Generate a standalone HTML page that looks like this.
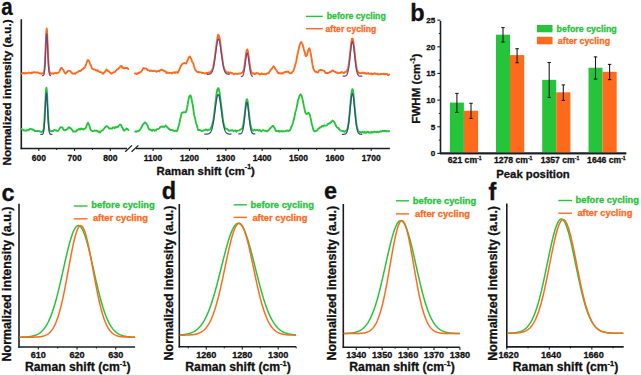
<!DOCTYPE html>
<html><head><meta charset="utf-8"><style>
html,body{margin:0;padding:0;background:#fff;width:641px;height:375px;overflow:hidden}
svg{display:block}
text{font-family:"Liberation Sans",sans-serif;font-weight:bold;stroke-width:0.3px;paint-order:fill}
</style></head><body>
<svg width="641" height="375" viewBox="0 0 641 375">
<rect width="641" height="375" fill="#fff"/>
<text transform="translate(1.3,14.7) scale(0.84,1)" font-size="24.5" fill="#111" stroke="#111">a</text>
<text transform="translate(11.0,165.6) rotate(-90)" font-size="11.75" fill="#111" stroke="#111">Normalized intensity (a.u.)</text>
<line x1="21.30" y1="19.20" x2="21.30" y2="149.20" stroke="#1a1e24" stroke-width="1.6"/>
<line x1="20.60" y1="148.50" x2="127.00" y2="148.50" stroke="#1a1e24" stroke-width="1.6"/>
<line x1="136.00" y1="148.50" x2="389.90" y2="148.50" stroke="#1a1e24" stroke-width="1.6"/>
<line x1="125.20" y1="151.80" x2="132.00" y2="145.40" stroke="#1a1e24" stroke-width="1.3"/>
<line x1="131.60" y1="151.80" x2="138.40" y2="145.40" stroke="#1a1e24" stroke-width="1.3"/>
<line x1="38.80" y1="148.50" x2="38.80" y2="151.10" stroke="#1a1e24" stroke-width="1.1"/>
<text x="38.80" y="160.70" font-size="8.5" fill="#111" stroke="#111" text-anchor="middle" >600</text>
<line x1="74.55" y1="148.50" x2="74.55" y2="151.10" stroke="#1a1e24" stroke-width="1.1"/>
<text x="74.55" y="160.70" font-size="8.5" fill="#111" stroke="#111" text-anchor="middle" >700</text>
<line x1="110.30" y1="148.50" x2="110.30" y2="151.10" stroke="#1a1e24" stroke-width="1.1"/>
<text x="110.30" y="160.70" font-size="8.5" fill="#111" stroke="#111" text-anchor="middle" >800</text>
<line x1="56.67" y1="148.50" x2="56.67" y2="150.00" stroke="#1a1e24" stroke-width="1.0"/>
<line x1="92.42" y1="148.50" x2="92.42" y2="150.00" stroke="#1a1e24" stroke-width="1.0"/>
<line x1="153.10" y1="148.50" x2="153.10" y2="151.10" stroke="#1a1e24" stroke-width="1.1"/>
<text x="153.10" y="160.70" font-size="8.5" fill="#111" stroke="#111" text-anchor="middle" >1100</text>
<line x1="189.45" y1="148.50" x2="189.45" y2="151.10" stroke="#1a1e24" stroke-width="1.1"/>
<text x="189.45" y="160.70" font-size="8.5" fill="#111" stroke="#111" text-anchor="middle" >1200</text>
<line x1="225.80" y1="148.50" x2="225.80" y2="151.10" stroke="#1a1e24" stroke-width="1.1"/>
<text x="225.80" y="160.70" font-size="8.5" fill="#111" stroke="#111" text-anchor="middle" >1300</text>
<line x1="262.15" y1="148.50" x2="262.15" y2="151.10" stroke="#1a1e24" stroke-width="1.1"/>
<text x="262.15" y="160.70" font-size="8.5" fill="#111" stroke="#111" text-anchor="middle" >1400</text>
<line x1="298.50" y1="148.50" x2="298.50" y2="151.10" stroke="#1a1e24" stroke-width="1.1"/>
<text x="298.50" y="160.70" font-size="8.5" fill="#111" stroke="#111" text-anchor="middle" >1500</text>
<line x1="334.85" y1="148.50" x2="334.85" y2="151.10" stroke="#1a1e24" stroke-width="1.1"/>
<text x="334.85" y="160.70" font-size="8.5" fill="#111" stroke="#111" text-anchor="middle" >1600</text>
<line x1="371.20" y1="148.50" x2="371.20" y2="151.10" stroke="#1a1e24" stroke-width="1.1"/>
<text x="371.20" y="160.70" font-size="8.5" fill="#111" stroke="#111" text-anchor="middle" >1700</text>
<line x1="171.28" y1="148.50" x2="171.28" y2="150.00" stroke="#1a1e24" stroke-width="1.0"/>
<line x1="207.62" y1="148.50" x2="207.62" y2="150.00" stroke="#1a1e24" stroke-width="1.0"/>
<line x1="243.97" y1="148.50" x2="243.97" y2="150.00" stroke="#1a1e24" stroke-width="1.0"/>
<line x1="280.32" y1="148.50" x2="280.32" y2="150.00" stroke="#1a1e24" stroke-width="1.0"/>
<line x1="316.67" y1="148.50" x2="316.67" y2="150.00" stroke="#1a1e24" stroke-width="1.0"/>
<line x1="353.02" y1="148.50" x2="353.02" y2="150.00" stroke="#1a1e24" stroke-width="1.0"/>
<text x="156.6" y="174.5" font-size="11.35" fill="#111" stroke="#111">Raman shift (cm<tspan font-size="6.9" dy="-5.2">-1</tspan><tspan dy="5.2">)</tspan></text>
<path d="M21.50,73.64 L21.90,73.58 L22.30,73.32 L22.70,73.08 L23.10,72.99 L23.50,73.01 L23.90,73.36 L24.30,73.57 L24.70,73.20 L25.10,73.05 L25.50,73.30 L25.90,73.38 L26.30,73.15 L26.70,72.97 L27.10,73.20 L27.50,73.27 L27.90,72.96 L28.30,72.75 L28.70,72.59 L29.10,72.50 L29.50,72.68 L29.90,72.91 L30.30,73.05 L30.70,73.28 L31.10,73.37 L31.50,72.87 L31.90,72.37 L32.30,72.57 L32.70,72.90 L33.10,72.69 L33.50,72.31 L33.90,72.21 L34.30,72.15 L34.70,72.31 L35.10,72.53 L35.50,72.34 L35.90,72.40 L36.30,72.57 L36.70,72.40 L37.10,72.43 L37.50,72.64 L37.90,72.59 L38.30,72.52 L38.70,73.00 L39.10,73.25 L39.50,73.06 L39.90,73.32 L40.30,73.41 L40.70,73.50 L41.10,73.97 L41.50,73.72 L41.90,73.18 L42.30,73.33 L42.70,73.51 L43.10,73.40 L43.50,73.12 L43.90,72.30 L44.30,70.51 L44.70,66.54 L45.10,59.50 L45.50,50.14 L45.90,40.03 L46.30,31.82 L46.70,28.51 L47.10,31.67 L47.50,40.10 L47.90,50.62 L48.30,59.72 L48.70,65.83 L49.10,69.82 L49.50,71.92 L49.90,72.45 L50.30,72.86 L50.70,73.45 L51.10,73.82 L51.50,73.72 L51.90,73.35 L52.30,73.22 L52.70,73.48 L53.10,73.70 L53.50,73.41 L53.90,73.24 L54.30,73.35 L54.70,73.26 L55.10,73.01 L55.50,72.86 L55.90,72.93 L56.30,73.13 L56.70,73.38 L57.10,73.30 L57.50,73.07 L57.90,72.95 L58.30,72.82 L58.70,72.56 L59.10,72.02 L59.50,71.15 L59.90,70.26 L60.30,69.50 L60.70,68.49 L61.10,67.84 L61.50,67.84 L61.90,67.93 L62.30,68.60 L62.70,69.35 L63.10,69.48 L63.50,70.02 L63.90,71.15 L64.30,72.06 L64.70,72.62 L65.10,73.16 L65.50,73.63 L65.90,73.43 L66.30,72.83 L66.70,72.48 L67.10,71.98 L67.50,71.36 L67.90,70.95 L68.30,70.72 L68.70,70.78 L69.10,70.85 L69.50,70.83 L69.90,71.03 L70.30,71.22 L70.70,71.36 L71.10,72.02 L71.50,72.66 L71.90,72.97 L72.30,73.36 L72.70,73.53 L73.10,73.64 L73.50,73.73 L73.90,73.81 L74.30,73.54 L74.70,73.26 L75.10,73.70 L75.50,73.77 L75.90,73.19 L76.30,72.76 L76.70,72.46 L77.10,72.34 L77.50,72.36 L77.90,72.05 L78.30,71.63 L78.70,71.30 L79.10,70.93 L79.50,70.90 L79.90,71.10 L80.30,71.00 L80.70,70.77 L81.10,70.34 L81.50,69.84 L81.90,69.56 L82.30,69.37 L82.70,69.16 L83.10,68.84 L83.50,68.33 L83.90,67.77 L84.30,67.73 L84.70,67.73 L85.10,66.73 L85.50,65.61 L85.90,65.06 L86.30,64.05 L86.70,62.50 L87.10,61.40 L87.50,60.50 L87.90,59.93 L88.30,60.16 L88.70,60.57 L89.10,61.08 L89.50,62.04 L89.90,63.30 L90.30,64.44 L90.70,65.37 L91.10,66.00 L91.50,67.01 L91.90,68.24 L92.30,68.81 L92.70,69.06 L93.10,69.21 L93.50,69.20 L93.90,69.40 L94.30,69.67 L94.70,69.68 L95.10,69.70 L95.50,70.02 L95.90,70.40 L96.30,70.50 L96.70,70.37 L97.10,70.11 L97.50,70.24 L97.90,70.95 L98.30,71.30 L98.70,71.27 L99.10,71.51 L99.50,71.85 L99.90,72.08 L100.30,72.09 L100.70,72.18 L101.10,72.35 L101.50,72.35 L101.90,72.69 L102.30,73.11 L102.70,73.46 L103.10,73.85 L103.50,73.59 L103.90,72.75 L104.30,72.33 L104.70,72.20 L105.10,71.56 L105.50,71.07 L105.90,70.57 L106.30,69.62 L106.70,69.45 L107.10,70.13 L107.50,70.60 L107.90,70.84 L108.30,71.13 L108.70,71.25 L109.10,71.55 L109.50,72.14 L109.90,72.38 L110.30,72.70 L110.70,73.36 L111.10,73.69 L111.50,73.56 L111.90,73.21 L112.30,72.92 L112.70,72.69 L113.10,72.58 L113.50,72.48 L113.90,72.21 L114.30,72.07 L114.70,72.12 L115.10,71.78 L115.50,71.06 L115.90,70.78 L116.30,70.55 L116.70,69.92 L117.10,69.31 L117.50,69.16 L117.90,69.11 L118.30,68.68 L118.70,68.17 L119.10,67.94 L119.50,67.82 L119.90,67.14 L120.30,66.41 L120.70,66.25 L121.10,65.93 L121.50,65.88 L121.90,66.88 L122.30,67.81 L122.70,67.78 L123.10,67.51 L123.50,67.85 L123.90,68.40 L124.30,68.39 L124.70,68.13 L125.10,68.00 L125.50,68.01 L125.90,68.12 L126.30,68.10 L126.70,67.87 L127.10,67.85 L127.50,68.18 L127.90,68.60 L128.30,69.12" fill="none" stroke="#ff6a1c" stroke-width="1.85" stroke-linejoin="round" stroke-linecap="round" />
<path d="M134.80,73.33 L135.20,73.48 L135.60,73.47 L136.00,73.51 L136.40,74.09 L136.80,74.11 L137.20,73.65 L137.60,73.60 L138.00,73.16 L138.40,72.59 L138.80,72.82 L139.20,73.04 L139.60,72.77 L140.00,72.38 L140.40,72.12 L140.80,72.00 L141.20,71.75 L141.60,71.08 L142.00,70.48 L142.40,69.98 L142.80,69.10 L143.20,68.18 L143.60,67.90 L144.00,68.30 L144.40,68.51 L144.80,68.42 L145.20,68.40 L145.60,68.42 L146.00,68.55 L146.40,68.72 L146.80,69.01 L147.20,69.59 L147.60,70.20 L148.00,70.33 L148.40,70.19 L148.80,70.13 L149.20,70.47 L149.60,70.99 L150.00,71.01 L150.40,70.74 L150.80,70.53 L151.20,70.46 L151.60,70.83 L152.00,71.11 L152.40,70.97 L152.80,70.89 L153.20,71.00 L153.60,70.90 L154.00,70.70 L154.40,70.79 L154.80,71.07 L155.20,71.26 L155.60,71.25 L156.00,71.54 L156.40,71.75 L156.80,71.34 L157.20,71.12 L157.60,71.25 L158.00,71.10 L158.40,70.91 L158.80,71.26 L159.20,71.43 L159.60,70.87 L160.00,70.29 L160.40,70.10 L160.80,69.99 L161.20,69.62 L161.60,69.66 L162.00,69.94 L162.40,69.89 L162.80,70.19 L163.20,70.50 L163.60,70.44 L164.00,70.82 L164.40,71.28 L164.80,71.19 L165.20,71.07 L165.60,71.38 L166.00,72.21 L166.40,73.03 L166.80,73.06 L167.20,72.62 L167.60,72.47 L168.00,72.68 L168.40,72.88 L168.80,72.91 L169.20,72.97 L169.60,72.97 L170.00,72.85 L170.40,72.88 L170.80,72.94 L171.20,72.97 L171.60,73.28 L172.00,73.57 L172.40,73.33 L172.80,72.76 L173.20,72.50 L173.60,72.50 L174.00,72.19 L174.40,72.30 L174.80,72.93 L175.20,73.02 L175.60,72.49 L176.00,72.05 L176.40,72.07 L176.80,72.26 L177.20,72.69 L177.60,72.93 L178.00,72.32 L178.40,71.37 L178.80,70.69 L179.20,70.14 L179.60,69.20 L180.00,68.07 L180.40,67.07 L180.80,66.19 L181.20,65.69 L181.60,65.18 L182.00,64.35 L182.40,63.68 L182.80,63.56 L183.20,63.48 L183.60,63.33 L184.00,63.17 L184.40,62.90 L184.80,63.03 L185.20,63.49 L185.60,63.59 L186.00,63.65 L186.40,63.20 L186.80,61.95 L187.20,60.98 L187.60,60.29 L188.00,59.24 L188.40,58.22 L188.80,57.58 L189.20,56.90 L189.60,56.40 L190.00,56.78 L190.40,57.71 L190.80,58.18 L191.20,58.71 L191.60,60.05 L192.00,61.32 L192.40,62.13 L192.80,62.69 L193.20,63.23 L193.60,64.53 L194.00,66.24 L194.40,67.51 L194.80,68.58 L195.20,69.49 L195.60,70.13 L196.00,70.62 L196.40,71.26 L196.80,71.71 L197.20,71.78 L197.60,72.17 L198.00,72.23 L198.40,71.93 L198.80,72.00 L199.20,72.23 L199.60,72.37 L200.00,72.33 L200.40,72.34 L200.80,72.43 L201.20,72.35 L201.60,72.44 L202.00,72.95 L202.40,73.11 L202.80,72.85 L203.20,72.91 L203.60,72.94 L204.00,73.04 L204.40,73.33 L204.80,73.48 L205.20,73.51 L205.60,73.29 L206.00,73.16 L206.40,73.01 L206.80,72.90 L207.20,73.02 L207.60,73.02 L208.00,72.96 L208.40,72.66 L208.80,72.33 L209.20,72.39 L209.60,72.59 L210.00,72.48 L210.40,72.06 L210.80,71.59 L211.20,71.24 L211.60,70.96 L212.00,70.08 L212.40,69.03 L212.80,68.45 L213.20,67.23 L213.60,64.97 L214.00,62.65 L214.40,60.27 L214.80,57.59 L215.20,54.69 L215.60,51.29 L216.00,47.97 L216.40,44.88 L216.80,41.81 L217.20,39.13 L217.60,36.80 L218.00,35.07 L218.40,34.77 L218.80,35.61 L219.20,36.61 L219.60,38.18 L220.00,40.60 L220.40,43.46 L220.80,46.91 L221.20,50.35 L221.60,53.08 L222.00,55.83 L222.40,58.85 L222.80,61.79 L223.20,64.64 L223.60,66.66 L224.00,67.72 L224.40,68.77 L224.80,70.23 L225.20,71.02 L225.60,71.12 L226.00,71.64 L226.40,72.24 L226.80,72.50 L227.20,72.46 L227.60,72.31 L228.00,72.22 L228.40,72.57 L228.80,73.25 L229.20,73.29 L229.60,72.86 L230.00,72.47 L230.40,72.40 L230.80,72.78 L231.20,73.16 L231.60,73.26 L232.00,73.19 L232.40,73.13 L232.80,73.36 L233.20,73.78 L233.60,74.30 L234.00,74.43 L234.40,73.94 L234.80,73.64 L235.20,73.72 L235.60,73.69 L236.00,73.69 L236.40,73.74 L236.80,73.79 L237.20,73.99 L237.60,74.05 L238.00,73.96 L238.40,73.78 L238.80,73.50 L239.20,73.41 L239.60,73.49 L240.00,73.56 L240.40,73.64 L240.80,73.43 L241.20,73.13 L241.60,73.01 L242.00,72.72 L242.40,72.43 L242.80,71.85 L243.20,70.89 L243.60,70.04 L244.00,68.63 L244.40,66.32 L244.80,63.53 L245.20,60.37 L245.60,57.11 L246.00,54.16 L246.40,51.76 L246.80,50.06 L247.20,49.41 L247.60,50.20 L248.00,51.99 L248.40,54.36 L248.80,57.40 L249.20,60.52 L249.60,63.40 L250.00,66.33 L250.40,68.77 L250.80,70.44 L251.20,71.54 L251.60,72.14 L252.00,72.76 L252.40,73.35 L252.80,73.57 L253.20,73.35 L253.60,73.19 L254.00,73.64 L254.40,74.10 L254.80,74.06 L255.20,73.60 L255.60,73.36 L256.00,73.67 L256.40,73.41 L256.80,73.02 L257.20,73.26 L257.60,73.19 L258.00,73.10 L258.40,73.60 L258.80,74.01 L259.20,73.93 L259.60,74.10 L260.00,74.59 L260.40,74.54 L260.80,74.05 L261.20,73.66 L261.60,73.45 L262.00,73.64 L262.40,74.03 L262.80,74.15 L263.20,74.20 L263.60,74.17 L264.00,73.91 L264.40,73.98 L264.80,74.27 L265.20,74.41 L265.60,74.40 L266.00,74.14 L266.40,73.89 L266.80,73.71 L267.20,73.25 L267.60,73.10 L268.00,73.43 L268.40,73.43 L268.80,72.85 L269.20,72.10 L269.60,71.64 L270.00,71.14 L270.40,70.22 L270.80,69.41 L271.20,69.27 L271.60,69.17 L272.00,68.47 L272.40,67.69 L272.80,67.38 L273.20,66.87 L273.60,66.17 L274.00,66.47 L274.40,67.22 L274.80,67.87 L275.20,68.64 L275.60,69.17 L276.00,69.60 L276.40,70.31 L276.80,71.00 L277.20,71.45 L277.60,72.10 L278.00,72.99 L278.40,73.34 L278.80,73.02 L279.20,72.89 L279.60,73.22 L280.00,73.46 L280.40,73.51 L280.80,73.46 L281.20,73.15 L281.60,73.06 L282.00,73.32 L282.40,73.63 L282.80,73.45 L283.20,72.75 L283.60,72.56 L284.00,72.64 L284.40,72.18 L284.80,71.91 L285.20,72.18 L285.60,72.17 L286.00,71.79 L286.40,71.62 L286.80,71.68 L287.20,71.77 L287.60,71.83 L288.00,71.68 L288.40,71.82 L288.80,72.28 L289.20,72.65 L289.60,73.11 L290.00,73.24 L290.40,73.14 L290.80,73.23 L291.20,73.34 L291.60,73.13 L292.00,72.40 L292.40,71.80 L292.80,71.64 L293.20,71.25 L293.60,70.18 L294.00,68.77 L294.40,67.81 L294.80,66.88 L295.20,65.24 L295.60,63.51 L296.00,62.15 L296.40,60.48 L296.80,58.19 L297.20,55.85 L297.60,54.05 L298.00,52.41 L298.40,50.39 L298.80,48.51 L299.20,47.01 L299.60,45.52 L300.00,44.18 L300.40,43.16 L300.80,42.40 L301.20,42.06 L301.60,42.44 L302.00,43.33 L302.40,44.11 L302.80,45.01 L303.20,46.48 L303.60,48.30 L304.00,49.94 L304.40,51.15 L304.80,52.58 L305.20,54.48 L305.60,56.01 L306.00,56.23 L306.40,55.70 L306.80,55.32 L307.20,54.39 L307.60,52.52 L308.00,50.86 L308.40,49.79 L308.80,48.81 L309.20,48.17 L309.60,48.49 L310.00,50.02 L310.40,51.90 L310.80,53.89 L311.20,56.06 L311.60,58.49 L312.00,61.45 L312.40,64.13 L312.80,66.33 L313.20,68.04 L313.60,68.92 L314.00,69.71 L314.40,70.71 L314.80,71.31 L315.20,71.63 L315.60,71.90 L316.00,71.79 L316.40,71.78 L316.80,72.27 L317.20,72.48 L317.60,72.52 L318.00,72.40 L318.40,71.51 L318.80,70.63 L319.20,70.35 L319.60,70.26 L320.00,70.30 L320.40,70.10 L320.80,69.80 L321.20,69.83 L321.60,69.87 L322.00,70.11 L322.40,70.31 L322.80,70.38 L323.20,70.54 L323.60,70.65 L324.00,70.65 L324.40,70.82 L324.80,71.65 L325.20,72.66 L325.60,73.12 L326.00,73.10 L326.40,72.86 L326.80,72.86 L327.20,73.18 L327.60,73.14 L328.00,72.93 L328.40,72.88 L328.80,72.75 L329.20,72.51 L329.60,72.15 L330.00,71.74 L330.40,71.86 L330.80,72.07 L331.20,71.48 L331.60,70.97 L332.00,70.99 L332.40,70.76 L332.80,70.36 L333.20,70.56 L333.60,71.04 L334.00,71.19 L334.40,71.51 L334.80,71.85 L335.20,71.84 L335.60,71.96 L336.00,72.45 L336.40,72.69 L336.80,72.40 L337.20,72.43 L337.60,72.85 L338.00,73.19 L338.40,73.44 L338.80,73.23 L339.20,72.83 L339.60,72.90 L340.00,72.87 L340.40,72.77 L340.80,72.82 L341.20,72.41 L341.60,72.10 L342.00,72.23 L342.40,72.25 L342.80,72.45 L343.20,72.82 L343.60,73.09 L344.00,73.16 L344.40,72.62 L344.80,72.07 L345.20,71.99 L345.60,71.89 L346.00,71.80 L346.40,71.73 L346.80,70.97 L347.20,70.07 L347.60,69.44 L348.00,68.19 L348.40,66.24 L348.80,63.89 L349.20,61.00 L349.60,57.72 L350.00,54.20 L350.40,50.36 L350.80,46.60 L351.20,43.12 L351.60,40.25 L352.00,38.71 L352.40,38.39 L352.80,38.88 L353.20,40.59 L353.60,43.57 L354.00,46.65 L354.40,49.70 L354.80,53.39 L355.20,57.45 L355.60,61.00 L356.00,63.92 L356.40,66.42 L356.80,68.45 L357.20,70.00 L357.60,71.00 L358.00,71.93 L358.40,73.06 L358.80,73.49 L359.20,73.02 L359.60,72.77 L360.00,73.05 L360.40,73.23 L360.80,73.05 L361.20,73.05 L361.60,73.15 L362.00,72.96 L362.40,72.92 L362.80,72.84 L363.20,72.55 L363.60,72.66 L364.00,73.12 L364.40,73.38 L364.80,73.15 L365.20,72.86 L365.60,73.18 L366.00,73.69 L366.40,73.71 L366.80,73.40 L367.20,73.31 L367.60,73.46 L368.00,73.27 L368.40,73.00 L368.80,73.34 L369.20,73.85 L369.60,73.97 L370.00,73.84 L370.40,73.73 L370.80,73.69 L371.20,73.54 L371.60,73.82 L372.00,74.39 L372.40,74.12 L372.80,73.60 L373.20,73.61 L373.60,73.92 L374.00,73.99 L374.40,73.49 L374.80,73.13 L375.20,73.41 L375.60,73.72 L376.00,73.96 L376.40,74.19 L376.80,74.16 L377.20,73.91 L377.60,73.74 L378.00,74.20 L378.40,74.64 L378.80,74.39 L379.20,74.07 L379.60,74.21 L380.00,74.28 L380.40,73.89 L380.80,73.83 L381.20,74.16 L381.60,74.17 L382.00,74.00 L382.40,73.98 L382.80,73.99 L383.20,74.00 L383.60,73.87 L384.00,73.73 L384.40,74.04 L384.80,74.20 L385.20,73.93 L385.60,74.02 L386.00,74.15 L386.40,73.99 L386.80,73.94 L387.20,74.09 L387.60,74.70 L388.00,75.31 L388.40,75.10 L388.80,74.60 L389.20,74.47" fill="none" stroke="#ff6a1c" stroke-width="1.85" stroke-linejoin="round" stroke-linecap="round" />
<path d="M21.60,128.85 L22.00,129.36 L22.40,129.63 L22.80,129.61 L23.20,129.94 L23.60,130.35 L24.00,130.58 L24.40,130.46 L24.80,130.30 L25.20,130.58 L25.60,130.80 L26.00,130.77 L26.40,130.67 L26.80,130.19 L27.20,129.90 L27.60,130.30 L28.00,130.37 L28.40,129.95 L28.80,129.74 L29.20,129.58 L29.60,129.09 L30.00,128.76 L30.40,129.01 L30.80,129.14 L31.20,129.04 L31.60,129.26 L32.00,129.19 L32.40,129.31 L32.80,129.90 L33.20,129.88 L33.60,129.70 L34.00,130.17 L34.40,130.88 L34.80,131.07 L35.20,130.92 L35.60,131.08 L36.00,131.16 L36.40,131.02 L36.80,131.09 L37.20,131.09 L37.60,130.94 L38.00,130.99 L38.40,131.17 L38.80,131.18 L39.20,131.05 L39.60,131.24 L40.00,131.58 L40.40,131.65 L40.80,131.77 L41.20,131.88 L41.60,131.99 L42.00,131.92 L42.40,131.42 L42.80,130.98 L43.20,130.44 L43.60,129.25 L44.00,125.95 L44.40,120.06 L44.80,112.94 L45.20,104.96 L45.60,96.68 L46.00,90.19 L46.40,87.67 L46.80,90.12 L47.20,96.54 L47.60,105.07 L48.00,113.43 L48.40,120.20 L48.80,125.34 L49.20,128.62 L49.60,130.42 L50.00,131.05 L50.40,131.20 L50.80,131.40 L51.20,131.26 L51.60,131.00 L52.00,131.04 L52.40,131.31 L52.80,131.41 L53.20,131.03 L53.60,130.51 L54.00,130.20 L54.40,129.94 L54.80,129.91 L55.20,130.28 L55.60,130.50 L56.00,130.42 L56.40,130.48 L56.80,130.75 L57.20,130.83 L57.60,130.91 L58.00,130.96 L58.40,130.57 L58.80,129.87 L59.20,129.13 L59.60,128.57 L60.00,127.95 L60.40,127.47 L60.80,127.37 L61.20,127.23 L61.60,127.36 L62.00,127.44 L62.40,127.46 L62.80,128.08 L63.20,128.99 L63.60,129.67 L64.00,130.14 L64.40,130.23 L64.80,130.13 L65.20,130.03 L65.60,129.90 L66.00,129.96 L66.40,129.73 L66.80,129.32 L67.20,129.18 L67.60,128.80 L68.00,128.03 L68.40,127.51 L68.80,127.29 L69.20,127.11 L69.60,127.57 L70.00,128.13 L70.40,128.19 L70.80,128.32 L71.20,128.61 L71.60,129.14 L72.00,129.69 L72.40,130.23 L72.80,131.03 L73.20,131.61 L73.60,131.64 L74.00,131.45 L74.40,131.43 L74.80,131.56 L75.20,131.59 L75.60,131.50 L76.00,131.45 L76.40,131.08 L76.80,130.28 L77.20,130.12 L77.60,130.23 L78.00,129.73 L78.40,129.26 L78.80,128.96 L79.20,128.75 L79.60,129.18 L80.00,129.77 L80.40,129.40 L80.80,128.64 L81.20,128.49 L81.60,128.88 L82.00,129.12 L82.40,128.88 L82.80,128.93 L83.20,129.43 L83.60,129.52 L84.00,129.11 L84.40,128.71 L84.80,128.62 L85.20,128.56 L85.60,128.10 L86.00,127.40 L86.40,126.18 L86.80,125.05 L87.20,124.27 L87.60,123.22 L88.00,122.74 L88.40,123.54 L88.80,124.56 L89.20,125.25 L89.60,126.40 L90.00,127.76 L90.40,129.14 L90.80,130.26 L91.20,130.43 L91.60,130.53 L92.00,130.93 L92.40,131.09 L92.80,131.18 L93.20,131.15 L93.60,131.17 L94.00,130.98 L94.40,130.51 L94.80,130.50 L95.20,130.68 L95.60,130.79 L96.00,130.76 L96.40,130.49 L96.80,130.66 L97.20,131.13 L97.60,131.20 L98.00,131.38 L98.40,132.17 L98.80,132.22 L99.20,131.54 L99.60,131.83 L100.00,132.40 L100.40,132.06 L100.80,131.47 L101.20,131.06 L101.60,130.75 L102.00,130.53 L102.40,130.41 L102.80,130.31 L103.20,129.90 L103.60,129.30 L104.00,128.74 L104.40,128.22 L104.80,127.57 L105.20,127.17 L105.60,126.94 L106.00,126.53 L106.40,126.25 L106.80,126.23 L107.20,126.31 L107.60,126.53 L108.00,127.01 L108.40,127.47 L108.80,127.89 L109.20,128.52 L109.60,128.69 L110.00,128.51 L110.40,128.47 L110.80,128.54 L111.20,128.57 L111.60,128.63 L112.00,128.67 L112.40,128.09 L112.80,127.51 L113.20,127.43 L113.60,127.44 L114.00,127.82 L114.40,128.21 L114.80,127.83 L115.20,127.14 L115.60,127.18 L116.00,127.54 L116.40,127.22 L116.80,126.86 L117.20,127.08 L117.60,127.25 L118.00,126.76 L118.40,126.08 L118.80,125.78 L119.20,125.50 L119.60,124.95 L120.00,124.68 L120.40,124.74 L120.80,124.89 L121.20,125.42 L121.60,126.49 L122.00,127.42 L122.40,127.76 L122.80,128.34 L123.20,129.29 L123.60,130.21 L124.00,130.76 L124.40,130.66 L124.80,130.23 L125.20,129.74 L125.60,129.53 L126.00,129.43 L126.40,128.92 L126.80,128.48 L127.20,128.66 L127.60,129.20 L128.00,129.68 L128.40,130.11" fill="none" stroke="#25c43a" stroke-width="1.85" stroke-linejoin="round" stroke-linecap="round" />
<path d="M135.20,131.68 L135.60,131.29 L136.00,131.59 L136.40,131.84 L136.80,131.32 L137.20,131.24 L137.60,131.41 L138.00,131.09 L138.40,130.80 L138.80,130.75 L139.20,130.65 L139.60,130.16 L140.00,129.51 L140.40,129.09 L140.80,128.48 L141.20,127.78 L141.60,127.23 L142.00,126.59 L142.40,125.64 L142.80,124.65 L143.20,124.13 L143.60,123.75 L144.00,123.33 L144.40,122.89 L144.80,122.43 L145.20,122.52 L145.60,122.85 L146.00,123.11 L146.40,123.78 L146.80,124.55 L147.20,125.09 L147.60,125.65 L148.00,126.61 L148.40,127.83 L148.80,128.87 L149.20,129.42 L149.60,129.52 L150.00,129.46 L150.40,129.59 L150.80,129.89 L151.20,130.13 L151.60,130.55 L152.00,130.85 L152.40,130.41 L152.80,129.93 L153.20,129.88 L153.60,129.88 L154.00,130.24 L154.40,130.82 L154.80,130.58 L155.20,130.14 L155.60,130.43 L156.00,130.47 L156.40,129.82 L156.80,129.29 L157.20,129.13 L157.60,129.09 L158.00,129.04 L158.40,128.93 L158.80,128.70 L159.20,128.44 L159.60,128.12 L160.00,127.41 L160.40,126.71 L160.80,126.70 L161.20,126.82 L161.60,126.79 L162.00,126.81 L162.40,126.49 L162.80,126.42 L163.20,126.83 L163.60,126.83 L164.00,126.66 L164.40,126.77 L164.80,126.78 L165.20,126.21 L165.60,125.58 L166.00,125.80 L166.40,126.22 L166.80,126.53 L167.20,127.25 L167.60,127.82 L168.00,127.81 L168.40,128.24 L168.80,129.08 L169.20,129.11 L169.60,129.08 L170.00,129.68 L170.40,129.97 L170.80,129.99 L171.20,130.14 L171.60,130.00 L172.00,129.92 L172.40,130.30 L172.80,130.47 L173.20,130.35 L173.60,130.41 L174.00,130.87 L174.40,131.16 L174.80,130.91 L175.20,130.83 L175.60,130.73 L176.00,130.64 L176.40,130.90 L176.80,131.12 L177.20,130.85 L177.60,129.79 L178.00,128.28 L178.40,126.88 L178.80,125.52 L179.20,123.97 L179.60,122.18 L180.00,120.23 L180.40,118.54 L180.80,116.95 L181.20,115.03 L181.60,113.39 L182.00,112.57 L182.40,112.56 L182.80,112.65 L183.20,112.35 L183.60,112.22 L184.00,112.29 L184.40,112.30 L184.80,112.20 L185.20,112.27 L185.60,112.32 L186.00,111.85 L186.40,110.67 L186.80,108.93 L187.20,107.23 L187.60,105.12 L188.00,102.47 L188.40,100.22 L188.80,98.36 L189.20,96.96 L189.60,96.01 L190.00,95.43 L190.40,95.37 L190.80,95.98 L191.20,97.45 L191.60,99.25 L192.00,101.35 L192.40,103.32 L192.80,105.22 L193.20,108.00 L193.60,111.21 L194.00,113.93 L194.40,115.94 L194.80,117.41 L195.20,118.91 L195.60,121.11 L196.00,122.98 L196.40,124.11 L196.80,125.12 L197.20,126.41 L197.60,128.30 L198.00,129.75 L198.40,130.07 L198.80,130.10 L199.20,130.00 L199.60,130.00 L200.00,130.27 L200.40,130.19 L200.80,130.33 L201.20,130.81 L201.60,131.08 L202.00,131.11 L202.40,130.93 L202.80,130.56 L203.20,130.44 L203.60,130.60 L204.00,130.43 L204.40,130.08 L204.80,130.02 L205.20,129.94 L205.60,129.63 L206.00,129.43 L206.40,129.56 L206.80,129.96 L207.20,130.42 L207.60,130.35 L208.00,129.68 L208.40,129.59 L208.80,129.91 L209.20,129.68 L209.60,129.60 L210.00,129.61 L210.40,128.86 L210.80,127.84 L211.20,127.25 L211.60,126.81 L212.00,125.68 L212.40,123.85 L212.80,122.20 L213.20,120.60 L213.60,118.22 L214.00,115.29 L214.40,112.38 L214.80,108.89 L215.20,104.97 L215.60,101.65 L216.00,98.52 L216.40,94.99 L216.80,91.95 L217.20,90.19 L217.60,89.31 L218.00,88.38 L218.40,88.12 L218.80,89.20 L219.20,90.66 L219.60,92.95 L220.00,96.03 L220.40,99.03 L220.80,101.99 L221.20,105.26 L221.60,108.87 L222.00,111.83 L222.40,114.97 L222.80,118.69 L223.20,121.43 L223.60,123.16 L224.00,124.63 L224.40,126.34 L224.80,127.82 L225.20,128.49 L225.60,128.56 L226.00,128.66 L226.40,128.86 L226.80,128.78 L227.20,129.07 L227.60,129.61 L228.00,129.76 L228.40,129.90 L228.80,130.36 L229.20,130.87 L229.60,130.83 L230.00,130.59 L230.40,130.53 L230.80,130.28 L231.20,130.36 L231.60,130.54 L232.00,130.32 L232.40,130.21 L232.80,130.32 L233.20,130.84 L233.60,131.18 L234.00,130.91 L234.40,130.72 L234.80,130.53 L235.20,130.28 L235.60,130.57 L236.00,131.38 L236.40,131.69 L236.80,131.07 L237.20,130.60 L237.60,130.60 L238.00,130.59 L238.40,130.60 L238.80,130.53 L239.20,130.42 L239.60,130.26 L240.00,129.92 L240.40,129.53 L240.80,129.25 L241.20,129.10 L241.60,128.90 L242.00,128.52 L242.40,127.86 L242.80,126.95 L243.20,125.31 L243.60,122.73 L244.00,119.82 L244.40,116.74 L244.80,113.55 L245.20,110.00 L245.60,105.99 L246.00,102.63 L246.40,100.33 L246.80,99.18 L247.20,99.66 L247.60,100.86 L248.00,103.49 L248.40,108.07 L248.80,112.08 L249.20,115.29 L249.60,118.83 L250.00,122.05 L250.40,124.38 L250.80,126.02 L251.20,127.57 L251.60,128.91 L252.00,129.74 L252.40,130.20 L252.80,130.56 L253.20,130.73 L253.60,130.40 L254.00,129.98 L254.40,129.62 L254.80,129.87 L255.20,130.36 L255.60,130.30 L256.00,130.31 L256.40,130.21 L256.80,129.96 L257.20,129.99 L257.60,130.04 L258.00,130.20 L258.40,130.53 L258.80,130.50 L259.20,130.11 L259.60,130.02 L260.00,130.27 L260.40,130.52 L260.80,131.03 L261.20,131.42 L261.60,131.07 L262.00,130.61 L262.40,130.40 L262.80,130.23 L263.20,130.16 L263.60,130.26 L264.00,130.45 L264.40,130.73 L264.80,130.92 L265.20,130.82 L265.60,130.60 L266.00,130.76 L266.40,131.25 L266.80,131.46 L267.20,131.37 L267.60,131.14 L268.00,130.65 L268.40,130.05 L268.80,129.95 L269.20,129.66 L269.60,128.75 L270.00,128.50 L270.40,128.37 L270.80,127.74 L271.20,127.38 L271.60,127.00 L272.00,126.45 L272.40,126.15 L272.80,125.92 L273.20,125.93 L273.60,126.39 L274.00,127.09 L274.40,127.91 L274.80,128.45 L275.20,129.14 L275.60,130.35 L276.00,131.07 L276.40,131.06 L276.80,130.89 L277.20,130.94 L277.60,131.17 L278.00,130.95 L278.40,130.71 L278.80,131.43 L279.20,131.74 L279.60,131.12 L280.00,131.18 L280.40,131.36 L280.80,131.36 L281.20,131.36 L281.60,131.05 L282.00,131.26 L282.40,131.59 L282.80,131.28 L283.20,131.07 L283.60,131.11 L284.00,131.31 L284.40,131.44 L284.80,131.28 L285.20,131.12 L285.60,131.03 L286.00,131.15 L286.40,130.82 L286.80,130.35 L287.20,130.55 L287.60,130.67 L288.00,130.93 L288.40,131.16 L288.80,130.65 L289.20,130.48 L289.60,130.63 L290.00,130.24 L290.40,129.57 L290.80,128.40 L291.20,127.06 L291.60,126.28 L292.00,125.66 L292.40,124.54 L292.80,123.17 L293.20,121.76 L293.60,120.16 L294.00,118.71 L294.40,117.33 L294.80,115.18 L295.20,112.89 L295.60,111.38 L296.00,110.23 L296.40,108.69 L296.80,106.68 L297.20,104.73 L297.60,102.79 L298.00,100.67 L298.40,99.12 L298.80,98.01 L299.20,96.67 L299.60,95.70 L300.00,95.12 L300.40,94.48 L300.80,94.42 L301.20,95.16 L301.60,95.84 L302.00,96.87 L302.40,98.69 L302.80,100.52 L303.20,102.35 L303.60,104.57 L304.00,106.53 L304.40,108.27 L304.80,110.34 L305.20,112.09 L305.60,113.03 L306.00,113.55 L306.40,113.96 L306.80,114.11 L307.20,113.75 L307.60,113.35 L308.00,113.11 L308.40,112.77 L308.80,112.97 L309.20,113.66 L309.60,114.20 L310.00,115.45 L310.40,117.28 L310.80,118.89 L311.20,120.70 L311.60,122.97 L312.00,124.78 L312.40,126.04 L312.80,127.62 L313.20,129.17 L313.60,130.23 L314.00,130.93 L314.40,131.28 L314.80,131.38 L315.20,131.22 L315.60,131.19 L316.00,131.01 L316.40,130.56 L316.80,130.54 L317.20,130.55 L317.60,129.88 L318.00,129.13 L318.40,128.66 L318.80,128.29 L319.20,128.23 L319.60,127.99 L320.00,127.39 L320.40,127.25 L320.80,127.26 L321.20,126.91 L321.60,126.53 L322.00,126.14 L322.40,125.92 L322.80,126.25 L323.20,126.54 L323.60,126.04 L324.00,125.51 L324.40,125.40 L324.80,125.47 L325.20,125.55 L325.60,125.64 L326.00,125.68 L326.40,125.44 L326.80,125.20 L327.20,124.94 L327.60,124.44 L328.00,123.94 L328.40,123.87 L328.80,123.87 L329.20,123.37 L329.60,123.03 L330.00,123.19 L330.40,122.91 L330.80,122.28 L331.20,121.81 L331.60,121.44 L332.00,121.01 L332.40,120.49 L332.80,120.56 L333.20,121.15 L333.60,121.58 L334.00,121.89 L334.40,122.33 L334.80,123.01 L335.20,124.08 L335.60,124.96 L336.00,125.60 L336.40,126.62 L336.80,127.26 L337.20,127.54 L337.60,127.85 L338.00,127.77 L338.40,127.86 L338.80,128.47 L339.20,129.20 L339.60,129.70 L340.00,130.12 L340.40,130.29 L340.80,130.43 L341.20,130.84 L341.60,130.98 L342.00,131.10 L342.40,131.24 L342.80,131.07 L343.20,130.98 L343.60,131.21 L344.00,131.63 L344.40,131.93 L344.80,131.77 L345.20,131.30 L345.60,130.99 L346.00,130.93 L346.40,130.55 L346.80,129.89 L347.20,129.28 L347.60,127.89 L348.00,125.91 L348.40,123.87 L348.80,121.10 L349.20,117.47 L349.60,113.26 L350.00,108.68 L350.40,104.14 L350.80,99.56 L351.20,95.37 L351.60,92.25 L352.00,90.07 L352.40,89.04 L352.80,89.55 L353.20,91.79 L353.60,95.09 L354.00,98.98 L354.40,103.76 L354.80,108.68 L355.20,112.87 L355.60,116.67 L356.00,120.67 L356.40,124.01 L356.80,126.26 L357.20,127.81 L357.60,129.02 L358.00,130.28 L358.40,131.19 L358.80,131.47 L359.20,131.55 L359.60,131.90 L360.00,132.23 L360.40,132.20 L360.80,131.94 L361.20,132.20 L361.60,132.61 L362.00,132.18 L362.40,131.85 L362.80,131.89 L363.20,132.04 L363.60,132.62 L364.00,132.74 L364.40,132.01 L364.80,131.79 L365.20,132.44 L365.60,132.78 L366.00,132.74 L366.40,132.51 L366.80,132.10 L367.20,131.84 L367.60,131.60 L368.00,131.75 L368.40,132.18 L368.80,132.46 L369.20,132.74 L369.60,132.44 L370.00,132.13 L370.40,132.56 L370.80,132.84 L371.20,132.38 L371.60,131.94 L372.00,132.27 L372.40,132.50 L372.80,132.07 L373.20,131.97 L373.60,132.29 L374.00,132.11 L374.40,131.73 L374.80,131.69 L375.20,131.81 L375.60,132.01 L376.00,132.23 L376.40,132.41 L376.80,132.10 L377.20,131.66 L377.60,131.93 L378.00,132.26 L378.40,132.26 L378.80,132.11 L379.20,131.68 L379.60,131.58 L380.00,131.75 L380.40,131.28 L380.80,131.11 L381.20,131.57 L381.60,131.56 L382.00,131.25 L382.40,130.99 L382.80,130.85 L383.20,130.99 L383.60,131.30 L384.00,131.21 L384.40,130.96 L384.80,131.13 L385.20,131.00 L385.60,130.98 L386.00,131.33 L386.40,131.13 L386.80,131.05 L387.20,131.37 L387.60,131.21 L388.00,131.10 L388.40,131.37 L388.80,131.40 L389.20,131.08" fill="none" stroke="#25c43a" stroke-width="1.85" stroke-linejoin="round" stroke-linecap="round" />
<path d="M42.40,75.69 L42.70,75.67 L43.00,75.62 L43.30,75.48 L43.60,75.16 L43.90,74.50 L44.20,73.23 L44.50,71.01 L44.80,67.51 L45.10,62.52 L45.40,56.14 L45.70,48.95 L46.00,41.99 L46.30,36.55 L46.60,33.79 L46.90,34.36 L47.20,38.11 L47.50,44.21 L47.80,51.38 L48.10,58.39 L48.40,64.35 L48.70,68.84 L49.00,71.88 L49.30,73.74 L49.60,74.77 L49.90,75.30 L50.20,75.54 L50.50,75.64" fill="none" stroke="#74428a" stroke-width="1.25" stroke-linejoin="round" stroke-linecap="round" />
<path d="M207.00,74.29 L207.30,74.29 L207.60,74.28 L207.90,74.27 L208.20,74.26 L208.50,74.24 L208.80,74.21 L209.10,74.17 L209.40,74.12 L209.70,74.05 L210.00,73.95 L210.30,73.81 L210.60,73.64 L210.90,73.41 L211.20,73.12 L211.50,72.74 L211.80,72.28 L212.10,71.70 L212.40,71.00 L212.70,70.16 L213.00,69.16 L213.30,67.99 L213.60,66.64 L213.90,65.12 L214.20,63.41 L214.50,61.54 L214.80,59.51 L215.10,57.36 L215.40,55.12 L215.70,52.83 L216.00,50.54 L216.30,48.30 L216.60,46.18 L216.90,44.23 L217.20,42.52 L217.50,41.09 L217.80,39.99 L218.10,39.26 L218.40,38.92 L218.70,38.99 L219.00,39.46 L219.30,40.32 L219.60,41.53 L219.90,43.06 L220.20,44.86 L220.50,46.87 L220.80,49.04 L221.10,51.30 L221.40,53.60 L221.70,55.88 L222.00,58.09 L222.30,60.21 L222.60,62.18 L222.90,64.00 L223.20,65.65 L223.50,67.11 L223.80,68.40 L224.10,69.51 L224.40,70.46 L224.70,71.25 L225.00,71.91 L225.30,72.45 L225.60,72.88 L225.90,73.22 L226.20,73.49 L226.50,73.70 L226.80,73.86 L227.10,73.98 L227.40,74.07 L227.70,74.14 L228.00,74.19 L228.30,74.22 L228.60,74.25 L228.90,74.26 L229.20,74.28" fill="none" stroke="#74428a" stroke-width="1.25" stroke-linejoin="round" stroke-linecap="round" />
<path d="M241.30,76.59 L241.60,76.51 L241.90,76.39 L242.20,76.20 L242.50,75.92 L242.80,75.52 L243.10,74.94 L243.40,74.17 L243.70,73.15 L244.00,71.86 L244.30,70.28 L244.60,68.42 L244.90,66.31 L245.20,64.02 L245.50,61.66 L245.80,59.33 L246.10,57.20 L246.40,55.41 L246.70,54.09 L247.00,53.34 L247.30,53.24 L247.60,53.77 L247.90,54.91 L248.20,56.56 L248.50,58.59 L248.80,60.87 L249.10,63.24 L249.40,65.57 L249.70,67.74 L250.00,69.69 L250.30,71.37 L250.60,72.75 L250.90,73.86 L251.20,74.71 L251.50,75.35 L251.80,75.80 L252.10,76.12 L252.40,76.34" fill="none" stroke="#74428a" stroke-width="1.25" stroke-linejoin="round" stroke-linecap="round" />
<path d="M343.20,76.19 L343.50,76.19 L343.80,76.18 L344.10,76.17 L344.40,76.15 L344.70,76.12 L345.00,76.08 L345.30,76.01 L345.60,75.91 L345.90,75.76 L346.20,75.55 L346.50,75.25 L346.80,74.84 L347.10,74.30 L347.40,73.59 L347.70,72.67 L348.00,71.52 L348.30,70.11 L348.60,68.42 L348.90,66.44 L349.20,64.19 L349.50,61.69 L349.80,58.99 L350.10,56.17 L350.40,53.31 L350.70,50.53 L351.00,47.94 L351.30,45.67 L351.60,43.81 L351.90,42.48 L352.20,41.74 L352.50,41.64 L352.80,42.17 L353.10,43.31 L353.40,45.00 L353.70,47.14 L354.00,49.64 L354.30,52.37 L354.60,55.21 L354.90,58.06 L355.20,60.81 L355.50,63.38 L355.80,65.72 L356.10,67.79 L356.40,69.57 L356.70,71.08 L357.00,72.31 L357.30,73.30 L357.60,74.08 L357.90,74.68 L358.20,75.13 L358.50,75.46 L358.80,75.70 L359.10,75.86 L359.40,75.98 L359.70,76.06 L360.00,76.11 L360.30,76.15 L360.60,76.17 L360.90,76.18 L361.20,76.19 L361.50,76.19 L361.80,76.20" fill="none" stroke="#74428a" stroke-width="1.25" stroke-linejoin="round" stroke-linecap="round" />
<path d="M40.80,134.40 L41.10,134.40 L41.40,134.39 L41.70,134.38 L42.00,134.35 L42.30,134.28 L42.60,134.12 L42.90,133.81 L43.20,133.21 L43.50,132.16 L43.80,130.42 L44.10,127.77 L44.40,124.03 L44.70,119.15 L45.00,113.34 L45.30,107.07 L45.60,101.09 L45.90,96.26 L46.20,93.37 L46.50,92.94 L46.80,95.05 L47.10,99.31 L47.40,105.00 L47.70,111.27 L48.00,117.30 L48.30,122.52 L48.60,126.65 L48.90,129.65 L49.20,131.67 L49.50,132.92 L49.80,133.65 L50.10,134.04 L50.40,134.24 L50.70,134.33 L51.00,134.37 L51.30,134.39 L51.60,134.40 L51.90,134.40" fill="none" stroke="#30507e" stroke-width="1.25" stroke-linejoin="round" stroke-linecap="round" />
<path d="M204.70,134.10 L205.00,134.10 L205.30,134.09 L205.60,134.09 L205.90,134.08 L206.20,134.08 L206.50,134.07 L206.80,134.05 L207.10,134.03 L207.40,134.01 L207.70,133.97 L208.00,133.92 L208.30,133.86 L208.60,133.77 L208.90,133.66 L209.20,133.51 L209.50,133.33 L209.80,133.09 L210.10,132.80 L210.40,132.43 L210.70,131.98 L211.00,131.43 L211.30,130.77 L211.60,129.99 L211.90,129.08 L212.20,128.02 L212.50,126.80 L212.80,125.41 L213.10,123.87 L213.40,122.16 L213.70,120.29 L214.00,118.28 L214.30,116.15 L214.60,113.92 L214.90,111.63 L215.20,109.31 L215.50,107.00 L215.80,104.75 L216.10,102.62 L216.40,100.64 L216.70,98.87 L217.00,97.36 L217.30,96.13 L217.60,95.23 L217.90,94.68 L218.20,94.50 L218.50,94.68 L218.80,95.23 L219.10,96.13 L219.40,97.36 L219.70,98.87 L220.00,100.64 L220.30,102.62 L220.60,104.75 L220.90,107.00 L221.20,109.31 L221.50,111.63 L221.80,113.92 L222.10,116.15 L222.40,118.28 L222.70,120.29 L223.00,122.16 L223.30,123.87 L223.60,125.41 L223.90,126.80 L224.20,128.02 L224.50,129.08 L224.80,129.99 L225.10,130.77 L225.40,131.43 L225.70,131.98 L226.00,132.43 L226.30,132.80 L226.60,133.09 L226.90,133.33 L227.20,133.51 L227.50,133.66 L227.80,133.77 L228.10,133.86 L228.40,133.92 L228.70,133.97 L229.00,134.01 L229.30,134.03 L229.60,134.05 L229.90,134.07 L230.20,134.08 L230.50,134.08 L230.80,134.09 L231.10,134.09" fill="none" stroke="#30507e" stroke-width="1.25" stroke-linejoin="round" stroke-linecap="round" />
<path d="M238.90,133.99 L239.20,133.98 L239.50,133.97 L239.80,133.94 L240.10,133.90 L240.40,133.84 L240.70,133.74 L241.00,133.59 L241.30,133.37 L241.60,133.06 L241.90,132.61 L242.20,132.00 L242.50,131.19 L242.80,130.14 L243.10,128.80 L243.40,127.17 L243.70,125.21 L244.00,122.96 L244.30,120.43 L244.60,117.69 L244.90,114.83 L245.20,111.98 L245.50,109.27 L245.80,106.84 L246.10,104.83 L246.40,103.37 L246.70,102.56 L247.00,102.44 L247.30,103.03 L247.60,104.28 L247.90,106.11 L248.20,108.42 L248.50,111.05 L248.80,113.88 L249.10,116.74 L249.40,119.53 L249.70,122.14 L250.00,124.49 L250.30,126.55 L250.60,128.29 L250.90,129.72 L251.20,130.87 L251.50,131.76 L251.80,132.43 L252.10,132.92 L252.40,133.28 L252.70,133.53 L253.00,133.70 L253.30,133.81 L253.60,133.88 L253.90,133.93 L254.20,133.96 L254.50,133.98 L254.80,133.99" fill="none" stroke="#30507e" stroke-width="1.25" stroke-linejoin="round" stroke-linecap="round" />
<path d="M342.40,134.30 L342.70,134.29 L343.00,134.29 L343.30,134.28 L343.60,134.27 L343.90,134.26 L344.20,134.23 L344.50,134.19 L344.80,134.13 L345.10,134.04 L345.40,133.90 L345.70,133.72 L346.00,133.45 L346.30,133.09 L346.60,132.61 L346.90,131.97 L347.20,131.14 L347.50,130.09 L347.80,128.79 L348.10,127.21 L348.40,125.33 L348.70,123.14 L349.00,120.65 L349.30,117.89 L349.60,114.90 L349.90,111.76 L350.20,108.54 L350.50,105.37 L350.80,102.35 L351.10,99.61 L351.40,97.27 L351.70,95.44 L352.00,94.21 L352.30,93.64 L352.60,93.75 L352.90,94.55 L353.20,95.99 L353.50,98.00 L353.80,100.48 L354.10,103.33 L354.40,106.41 L354.70,109.61 L355.00,112.82 L355.30,115.92 L355.60,118.84 L355.90,121.51 L356.20,123.90 L356.50,125.99 L356.80,127.77 L357.10,129.26 L357.40,130.47 L357.70,131.44 L358.00,132.20 L358.30,132.78 L358.60,133.22 L358.90,133.55 L359.20,133.79 L359.50,133.95 L359.80,134.07 L360.10,134.15 L360.40,134.20 L360.70,134.24 L361.00,134.26 L361.30,134.28 L361.60,134.29 L361.90,134.29" fill="none" stroke="#30507e" stroke-width="1.25" stroke-linejoin="round" stroke-linecap="round" />
<line x1="305.90" y1="16.40" x2="322.80" y2="16.40" stroke="#25c43a" stroke-width="1.4"/>
<line x1="305.90" y1="28.70" x2="322.80" y2="28.70" stroke="#ff6a1c" stroke-width="1.4"/>
<text x="326.80" y="19.40" font-size="8.7" fill="#25c43a" stroke="#25c43a" text-anchor="start" >before cycling</text>
<text x="325.60" y="32.10" font-size="8.6" fill="#ff6a1c" stroke="#ff6a1c" text-anchor="start" >after cycling</text>
<text x="410.30" y="21.30" font-size="23.5" fill="#111" stroke="#111" text-anchor="start" >b</text>
<text transform="translate(420.4,123.7) rotate(-90)" font-size="11.6" fill="#111" stroke="#111">FWHM (cm<tspan font-size="7.2" dy="-5.8">-1</tspan><tspan dy="5.8">)</tspan></text>
<line x1="440.50" y1="21.00" x2="440.50" y2="154.00" stroke="#1a1e24" stroke-width="1.6"/>
<line x1="439.90" y1="153.40" x2="626.20" y2="153.40" stroke="#1a1e24" stroke-width="1.6"/>
<line x1="437.30" y1="153.40" x2="440.50" y2="153.40" stroke="#1a1e24" stroke-width="1.1"/>
<text x="435.20" y="156.30" font-size="8.1" fill="#111" stroke="#111" text-anchor="end" >0</text>
<line x1="437.30" y1="126.75" x2="440.50" y2="126.75" stroke="#1a1e24" stroke-width="1.1"/>
<text x="435.20" y="129.65" font-size="8.1" fill="#111" stroke="#111" text-anchor="end" >5</text>
<line x1="437.30" y1="100.10" x2="440.50" y2="100.10" stroke="#1a1e24" stroke-width="1.1"/>
<text x="435.20" y="103.00" font-size="8.1" fill="#111" stroke="#111" text-anchor="end" >10</text>
<line x1="437.30" y1="73.45" x2="440.50" y2="73.45" stroke="#1a1e24" stroke-width="1.1"/>
<text x="435.20" y="76.35" font-size="8.1" fill="#111" stroke="#111" text-anchor="end" >15</text>
<line x1="437.30" y1="46.80" x2="440.50" y2="46.80" stroke="#1a1e24" stroke-width="1.1"/>
<text x="435.20" y="49.70" font-size="8.1" fill="#111" stroke="#111" text-anchor="end" >20</text>
<line x1="437.30" y1="20.15" x2="440.50" y2="20.15" stroke="#1a1e24" stroke-width="1.1"/>
<text x="435.20" y="23.05" font-size="8.1" fill="#111" stroke="#111" text-anchor="end" >25</text>
<line x1="438.80" y1="140.08" x2="440.50" y2="140.08" stroke="#1a1e24" stroke-width="1.0"/>
<line x1="438.80" y1="113.43" x2="440.50" y2="113.43" stroke="#1a1e24" stroke-width="1.0"/>
<line x1="438.80" y1="86.78" x2="440.50" y2="86.78" stroke="#1a1e24" stroke-width="1.0"/>
<line x1="438.80" y1="60.12" x2="440.50" y2="60.12" stroke="#1a1e24" stroke-width="1.0"/>
<line x1="438.80" y1="33.48" x2="440.50" y2="33.48" stroke="#1a1e24" stroke-width="1.0"/>
<rect x="449.90" y="102.61" width="14.0" height="50.79" fill="#25c43a"/>
<rect x="463.90" y="110.76" width="14.2" height="42.64" fill="#ff6a1c"/>
<rect x="496.00" y="34.70" width="14.0" height="118.70" fill="#25c43a"/>
<rect x="510.00" y="55.11" width="14.2" height="98.29" fill="#ff6a1c"/>
<rect x="542.20" y="79.85" width="14.0" height="73.55" fill="#25c43a"/>
<rect x="556.20" y="92.32" width="14.2" height="61.08" fill="#ff6a1c"/>
<rect x="588.50" y="67.75" width="14.0" height="85.65" fill="#25c43a"/>
<rect x="602.50" y="71.80" width="14.2" height="81.60" fill="#ff6a1c"/>
<line x1="456.90" y1="93.40" x2="456.90" y2="112.40" stroke="#1c1c24" stroke-width="1.1"/>
<line x1="455.20" y1="93.40" x2="458.60" y2="93.40" stroke="#1c1c24" stroke-width="1.1"/>
<line x1="455.20" y1="112.40" x2="458.60" y2="112.40" stroke="#1c1c24" stroke-width="1.1"/>
<line x1="471.00" y1="103.30" x2="471.00" y2="118.40" stroke="#1c1c24" stroke-width="1.1"/>
<line x1="469.30" y1="103.30" x2="472.70" y2="103.30" stroke="#1c1c24" stroke-width="1.1"/>
<line x1="469.30" y1="118.40" x2="472.70" y2="118.40" stroke="#1c1c24" stroke-width="1.1"/>
<line x1="503.00" y1="27.60" x2="503.00" y2="42.00" stroke="#1c1c24" stroke-width="1.1"/>
<line x1="501.30" y1="27.60" x2="504.70" y2="27.60" stroke="#1c1c24" stroke-width="1.1"/>
<line x1="501.30" y1="42.00" x2="504.70" y2="42.00" stroke="#1c1c24" stroke-width="1.1"/>
<line x1="517.10" y1="48.70" x2="517.10" y2="62.70" stroke="#1c1c24" stroke-width="1.1"/>
<line x1="515.40" y1="48.70" x2="518.80" y2="48.70" stroke="#1c1c24" stroke-width="1.1"/>
<line x1="515.40" y1="62.70" x2="518.80" y2="62.70" stroke="#1c1c24" stroke-width="1.1"/>
<line x1="549.20" y1="62.50" x2="549.20" y2="97.50" stroke="#1c1c24" stroke-width="1.1"/>
<line x1="547.50" y1="62.50" x2="550.90" y2="62.50" stroke="#1c1c24" stroke-width="1.1"/>
<line x1="547.50" y1="97.50" x2="550.90" y2="97.50" stroke="#1c1c24" stroke-width="1.1"/>
<line x1="563.30" y1="84.90" x2="563.30" y2="100.40" stroke="#1c1c24" stroke-width="1.1"/>
<line x1="561.60" y1="84.90" x2="565.00" y2="84.90" stroke="#1c1c24" stroke-width="1.1"/>
<line x1="561.60" y1="100.40" x2="565.00" y2="100.40" stroke="#1c1c24" stroke-width="1.1"/>
<line x1="595.50" y1="56.90" x2="595.50" y2="79.10" stroke="#1c1c24" stroke-width="1.1"/>
<line x1="593.80" y1="56.90" x2="597.20" y2="56.90" stroke="#1c1c24" stroke-width="1.1"/>
<line x1="593.80" y1="79.10" x2="597.20" y2="79.10" stroke="#1c1c24" stroke-width="1.1"/>
<line x1="609.60" y1="64.40" x2="609.60" y2="79.60" stroke="#1c1c24" stroke-width="1.1"/>
<line x1="607.90" y1="64.40" x2="611.30" y2="64.40" stroke="#1c1c24" stroke-width="1.1"/>
<line x1="607.90" y1="79.60" x2="611.30" y2="79.60" stroke="#1c1c24" stroke-width="1.1"/>
<line x1="439.90" y1="153.40" x2="626.20" y2="153.40" stroke="#1a1e24" stroke-width="1.6"/>
<text x="447.80" y="163.4" font-size="8.65" fill="#111" stroke="#111">621 cm<tspan font-size="5.0" dy="-3.9">-1</tspan></text>
<text x="493.90" y="163.4" font-size="8.65" fill="#111" stroke="#111">1278 cm<tspan font-size="5.0" dy="-3.9">-1</tspan></text>
<text x="540.70" y="163.4" font-size="8.65" fill="#111" stroke="#111">1357 cm<tspan font-size="5.0" dy="-3.9">-1</tspan></text>
<text x="587.10" y="163.4" font-size="8.65" fill="#111" stroke="#111">1646 cm<tspan font-size="5.0" dy="-3.9">-1</tspan></text>
<text x="496.30" y="177.90" font-size="11.3" fill="#111" stroke="#111" text-anchor="start" >Peak position</text>
<rect x="536.9" y="25.0" width="15.6" height="7.3" fill="#25c43a"/>
<rect x="536.9" y="36.8" width="15.6" height="7.5" fill="#ff6a1c"/>
<text x="556.60" y="31.80" font-size="8.9" fill="#25c43a" stroke="#25c43a" text-anchor="start" >before cycling</text>
<text x="557.80" y="43.60" font-size="8.9" fill="#ff6a1c" stroke="#ff6a1c" text-anchor="start" >after cycling</text>
<text x="1.60" y="200.80" font-size="23.5" fill="#111" stroke="#111" text-anchor="start" >c</text>
<line x1="19.00" y1="203.80" x2="19.00" y2="347.70" stroke="#1a1e24" stroke-width="1.6"/>
<line x1="18.30" y1="347.00" x2="135.10" y2="347.00" stroke="#1a1e24" stroke-width="1.6"/>
<line x1="38.35" y1="347.00" x2="38.35" y2="349.60" stroke="#1a1e24" stroke-width="1.1"/>
<text x="38.35" y="357.80" font-size="9.1" fill="#111" stroke="#111" text-anchor="middle" >610</text>
<line x1="77.05" y1="347.00" x2="77.05" y2="349.60" stroke="#1a1e24" stroke-width="1.1"/>
<text x="77.05" y="357.80" font-size="9.1" fill="#111" stroke="#111" text-anchor="middle" >620</text>
<line x1="115.75" y1="347.00" x2="115.75" y2="349.60" stroke="#1a1e24" stroke-width="1.1"/>
<text x="115.75" y="357.80" font-size="9.1" fill="#111" stroke="#111" text-anchor="middle" >630</text>
<line x1="57.70" y1="347.00" x2="57.70" y2="348.50" stroke="#1a1e24" stroke-width="1.0"/>
<line x1="96.40" y1="347.00" x2="96.40" y2="348.50" stroke="#1a1e24" stroke-width="1.0"/>
<text x="25.00" y="371.2" font-size="12.2" fill="#111" stroke="#111">Raman shift (cm<tspan font-size="7.4" dy="-5.0">-1</tspan><tspan dy="5.0">)</tspan></text>
<text transform="translate(11.40,361.40) rotate(-90)" font-size="12.45" fill="#111" stroke="#111">Normalized intensity (a.u.)</text>
<path d="M20.00,337.14 L20.50,337.13 L21.00,337.12 L21.50,337.11 L22.00,337.10 L22.50,337.08 L23.00,337.07 L23.50,337.05 L24.00,337.03 L24.50,337.01 L25.00,336.99 L25.50,336.96 L26.00,336.93 L26.50,336.90 L27.00,336.86 L27.50,336.82 L28.00,336.77 L28.50,336.73 L29.00,336.67 L29.50,336.61 L30.00,336.54 L30.50,336.47 L31.00,336.39 L31.50,336.30 L32.00,336.21 L32.50,336.10 L33.00,335.98 L33.50,335.86 L34.00,335.72 L34.50,335.57 L35.00,335.41 L35.50,335.23 L36.00,335.03 L36.50,334.82 L37.00,334.60 L37.50,334.35 L38.00,334.09 L38.50,333.80 L39.00,333.49 L39.50,333.16 L40.00,332.80 L40.50,332.42 L41.00,332.01 L41.50,331.56 L42.00,331.09 L42.50,330.59 L43.00,330.05 L43.50,329.48 L44.00,328.87 L44.50,328.22 L45.00,327.53 L45.50,326.81 L46.00,326.03 L46.50,325.22 L47.00,324.36 L47.50,323.45 L48.00,322.49 L48.50,321.49 L49.00,320.43 L49.50,319.33 L50.00,318.17 L50.50,316.95 L51.00,315.69 L51.50,314.37 L52.00,312.99 L52.50,311.57 L53.00,310.08 L53.50,308.55 L54.00,306.95 L54.50,305.31 L55.00,303.61 L55.50,301.86 L56.00,300.06 L56.50,298.21 L57.00,296.32 L57.50,294.38 L58.00,292.39 L58.50,290.37 L59.00,288.31 L59.50,286.21 L60.00,284.08 L60.50,281.93 L61.00,279.74 L61.50,277.54 L62.00,275.32 L62.50,273.09 L63.00,270.86 L63.50,268.61 L64.00,266.38 L64.50,264.14 L65.00,261.92 L65.50,259.72 L66.00,257.54 L66.50,255.39 L67.00,253.27 L67.50,251.20 L68.00,249.16 L68.50,247.18 L69.00,245.26 L69.50,243.39 L70.00,241.60 L70.50,239.87 L71.00,238.23 L71.50,236.66 L72.00,235.19 L72.50,233.80 L73.00,232.51 L73.50,231.32 L74.00,230.24 L74.50,229.26 L75.00,228.39 L75.50,227.64 L76.00,227.00 L76.50,226.48 L77.00,226.08 L77.50,225.80 L78.00,225.64 L78.50,225.60 L79.00,225.69 L79.50,225.90 L80.00,226.22 L80.50,226.67 L81.00,227.24 L81.50,227.93 L82.00,228.73 L82.50,229.64 L83.00,230.66 L83.50,231.79 L84.00,233.02 L84.50,234.34 L85.00,235.77 L85.50,237.28 L86.00,238.88 L86.50,240.55 L87.00,242.31 L87.50,244.13 L88.00,246.02 L88.50,247.97 L89.00,249.97 L89.50,252.02 L90.00,254.12 L90.50,256.25 L91.00,258.41 L91.50,260.60 L92.00,262.81 L92.50,265.04 L93.00,267.27 L93.50,269.51 L94.00,271.75 L94.50,273.99 L95.00,276.21 L95.50,278.43 L96.00,280.62 L96.50,282.79 L97.00,284.94 L97.50,287.05 L98.00,289.14 L98.50,291.18 L99.00,293.19 L99.50,295.16 L100.00,297.08 L100.50,298.96 L101.00,300.79 L101.50,302.57 L102.00,304.30 L102.50,305.97 L103.00,307.60 L103.50,309.17 L104.00,310.68 L104.50,312.14 L105.00,313.55 L105.50,314.90 L106.00,316.20 L106.50,317.45 L107.00,318.64 L107.50,319.77 L108.00,320.86 L108.50,321.90 L109.00,322.88 L109.50,323.82 L110.00,324.71 L110.50,325.55 L111.00,326.35 L111.50,327.10 L112.00,327.81 L112.50,328.49 L113.00,329.12 L113.50,329.71 L114.00,330.27 L114.50,330.79 L115.00,331.29 L115.50,331.74 L116.00,332.17 L116.50,332.57 L117.00,332.95 L117.50,333.29 L118.00,333.62 L118.50,333.92 L119.00,334.20 L119.50,334.45 L120.00,334.69 L120.50,334.91 L121.00,335.11 L121.50,335.30 L122.00,335.47 L122.50,335.63 L123.00,335.78 L123.50,335.91 L124.00,336.03 L124.50,336.14 L125.00,336.25 L125.50,336.34 L126.00,336.42 L126.50,336.50 L127.00,336.57 L127.50,336.64 L128.00,336.69 L128.50,336.75 L129.00,336.79 L129.50,336.84 L130.00,336.87 L130.50,336.91 L131.00,336.94 L131.50,336.97 L132.00,337.00 L132.50,337.02 L133.00,337.04 L133.50,337.06 L134.00,337.07 L134.50,337.09" fill="none" stroke="#25c43a" stroke-width="1.5" stroke-linejoin="round" stroke-linecap="round" />
<path d="M20.00,337.20 L20.50,337.20 L21.00,337.20 L21.50,337.20 L22.00,337.20 L22.50,337.20 L23.00,337.20 L23.50,337.20 L24.00,337.20 L24.50,337.20 L25.00,337.20 L25.50,337.20 L26.00,337.19 L26.50,337.19 L27.00,337.19 L27.50,337.19 L28.00,337.19 L28.50,337.19 L29.00,337.18 L29.50,337.18 L30.00,337.18 L30.50,337.17 L31.00,337.17 L31.50,337.16 L32.00,337.16 L32.50,337.15 L33.00,337.14 L33.50,337.13 L34.00,337.12 L34.50,337.10 L35.00,337.09 L35.50,337.07 L36.00,337.05 L36.50,337.02 L37.00,337.00 L37.50,336.97 L38.00,336.93 L38.50,336.89 L39.00,336.84 L39.50,336.79 L40.00,336.73 L40.50,336.67 L41.00,336.59 L41.50,336.50 L42.00,336.41 L42.50,336.30 L43.00,336.18 L43.50,336.05 L44.00,335.90 L44.50,335.73 L45.00,335.55 L45.50,335.34 L46.00,335.11 L46.50,334.86 L47.00,334.58 L47.50,334.28 L48.00,333.94 L48.50,333.57 L49.00,333.17 L49.50,332.73 L50.00,332.25 L50.50,331.72 L51.00,331.15 L51.50,330.53 L52.00,329.86 L52.50,329.14 L53.00,328.36 L53.50,327.52 L54.00,326.62 L54.50,325.65 L55.00,324.62 L55.50,323.52 L56.00,322.34 L56.50,321.09 L57.00,319.76 L57.50,318.36 L58.00,316.87 L58.50,315.31 L59.00,313.66 L59.50,311.93 L60.00,310.12 L60.50,308.23 L61.00,306.25 L61.50,304.20 L62.00,302.06 L62.50,299.85 L63.00,297.57 L63.50,295.22 L64.00,292.80 L64.50,290.32 L65.00,287.78 L65.50,285.19 L66.00,282.56 L66.50,279.89 L67.00,277.18 L67.50,274.46 L68.00,271.71 L68.50,268.96 L69.00,266.21 L69.50,263.47 L70.00,260.76 L70.50,258.07 L71.00,255.43 L71.50,252.83 L72.00,250.30 L72.50,247.84 L73.00,245.46 L73.50,243.17 L74.00,240.99 L74.50,238.91 L75.00,236.96 L75.50,235.14 L76.00,233.46 L76.50,231.92 L77.00,230.54 L77.50,229.31 L78.00,228.26 L78.50,227.37 L79.00,226.66 L79.50,226.13 L80.00,225.78 L80.50,225.61 L81.00,225.63 L81.50,225.84 L82.00,226.22 L82.50,226.79 L83.00,227.53 L83.50,228.45 L84.00,229.55 L84.50,230.80 L85.00,232.22 L85.50,233.78 L86.00,235.49 L86.50,237.34 L87.00,239.32 L87.50,241.42 L88.00,243.62 L88.50,245.93 L89.00,248.32 L89.50,250.80 L90.00,253.35 L90.50,255.95 L91.00,258.61 L91.50,261.30 L92.00,264.02 L92.50,266.76 L93.00,269.51 L93.50,272.26 L94.00,275.00 L94.50,277.73 L95.00,280.42 L95.50,283.09 L96.00,285.72 L96.50,288.29 L97.00,290.82 L97.50,293.29 L98.00,295.70 L98.50,298.03 L99.00,300.30 L99.50,302.50 L100.00,304.61 L100.50,306.65 L101.00,308.61 L101.50,310.49 L102.00,312.28 L102.50,314.00 L103.00,315.63 L103.50,317.18 L104.00,318.65 L104.50,320.03 L105.00,321.35 L105.50,322.58 L106.00,323.74 L106.50,324.83 L107.00,325.85 L107.50,326.81 L108.00,327.70 L108.50,328.52 L109.00,329.29 L109.50,330.00 L110.00,330.66 L110.50,331.27 L111.00,331.83 L111.50,332.35 L112.00,332.82 L112.50,333.25 L113.00,333.65 L113.50,334.01 L114.00,334.34 L114.50,334.64 L115.00,334.91 L115.50,335.16 L116.00,335.38 L116.50,335.59 L117.00,335.77 L117.50,335.93 L118.00,336.08 L118.50,336.21 L119.00,336.32 L119.50,336.43 L120.00,336.52 L120.50,336.61 L121.00,336.68 L121.50,336.74 L122.00,336.80 L122.50,336.85 L123.00,336.90 L123.50,336.94 L124.00,336.97 L124.50,337.00 L125.00,337.03 L125.50,337.05 L126.00,337.07 L126.50,337.09 L127.00,337.11 L127.50,337.12 L128.00,337.13 L128.50,337.14 L129.00,337.15 L129.50,337.16 L130.00,337.16 L130.50,337.17 L131.00,337.17 L131.50,337.18 L132.00,337.18 L132.50,337.18 L133.00,337.19 L133.50,337.19 L134.00,337.19 L134.50,337.19" fill="none" stroke="#ff6a1c" stroke-width="1.5" stroke-linejoin="round" stroke-linecap="round" />
<line x1="73.80" y1="206.00" x2="87.60" y2="206.00" stroke="#25c43a" stroke-width="1.4"/>
<line x1="73.80" y1="218.80" x2="87.60" y2="218.80" stroke="#ff6a1c" stroke-width="1.4"/>
<text x="91.30" y="208.40" font-size="9.35" fill="#25c43a" stroke="#25c43a" text-anchor="start" >before cycling</text>
<text x="92.90" y="220.90" font-size="9.35" fill="#ff6a1c" stroke="#ff6a1c" text-anchor="start" >after cycling</text>
<text x="161.80" y="199.00" font-size="23.5" fill="#111" stroke="#111" text-anchor="start" >d</text>
<line x1="179.30" y1="204.00" x2="179.30" y2="347.50" stroke="#1a1e24" stroke-width="1.6"/>
<line x1="178.60" y1="346.80" x2="296.20" y2="346.80" stroke="#1a1e24" stroke-width="1.6"/>
<line x1="206.28" y1="346.80" x2="206.28" y2="349.40" stroke="#1a1e24" stroke-width="1.1"/>
<text x="206.28" y="357.80" font-size="9.1" fill="#111" stroke="#111" text-anchor="middle" >1260</text>
<line x1="242.25" y1="346.80" x2="242.25" y2="349.40" stroke="#1a1e24" stroke-width="1.1"/>
<text x="242.25" y="357.80" font-size="9.1" fill="#111" stroke="#111" text-anchor="middle" >1280</text>
<line x1="278.22" y1="346.80" x2="278.22" y2="349.40" stroke="#1a1e24" stroke-width="1.1"/>
<text x="278.22" y="357.80" font-size="9.1" fill="#111" stroke="#111" text-anchor="middle" >1300</text>
<line x1="188.29" y1="346.80" x2="188.29" y2="348.30" stroke="#1a1e24" stroke-width="1.0"/>
<line x1="224.26" y1="346.80" x2="224.26" y2="348.30" stroke="#1a1e24" stroke-width="1.0"/>
<line x1="260.23" y1="346.80" x2="260.23" y2="348.30" stroke="#1a1e24" stroke-width="1.0"/>
<line x1="296.20" y1="346.80" x2="296.20" y2="348.30" stroke="#1a1e24" stroke-width="1.0"/>
<text x="185.30" y="371.2" font-size="12.2" fill="#111" stroke="#111">Raman shift (cm<tspan font-size="7.4" dy="-5.0">-1</tspan><tspan dy="5.0">)</tspan></text>
<text transform="translate(173.00,360.40) rotate(-90)" font-size="12.45" fill="#111" stroke="#111">Normalized intensity (a.u.)</text>
<path d="M180.30,334.89 L180.80,334.85 L181.30,334.82 L181.80,334.78 L182.30,334.73 L182.80,334.69 L183.30,334.63 L183.80,334.58 L184.30,334.51 L184.80,334.45 L185.30,334.37 L185.80,334.29 L186.30,334.21 L186.80,334.11 L187.30,334.01 L187.80,333.90 L188.30,333.78 L188.80,333.65 L189.30,333.51 L189.80,333.36 L190.30,333.20 L190.80,333.03 L191.30,332.84 L191.80,332.64 L192.30,332.42 L192.80,332.19 L193.30,331.94 L193.80,331.68 L194.30,331.40 L194.80,331.09 L195.30,330.77 L195.80,330.43 L196.30,330.06 L196.80,329.67 L197.30,329.26 L197.80,328.82 L198.30,328.35 L198.80,327.86 L199.30,327.34 L199.80,326.79 L200.30,326.21 L200.80,325.59 L201.30,324.95 L201.80,324.27 L202.30,323.55 L202.80,322.80 L203.30,322.01 L203.80,321.19 L204.30,320.32 L204.80,319.42 L205.30,318.47 L205.80,317.49 L206.30,316.46 L206.80,315.39 L207.30,314.28 L207.80,313.13 L208.30,311.93 L208.80,310.69 L209.30,309.40 L209.80,308.07 L210.30,306.70 L210.80,305.28 L211.30,303.82 L211.80,302.32 L212.30,300.78 L212.80,299.19 L213.30,297.57 L213.80,295.91 L214.30,294.21 L214.80,292.47 L215.30,290.70 L215.80,288.89 L216.30,287.06 L216.80,285.19 L217.30,283.30 L217.80,281.39 L218.30,279.45 L218.80,277.50 L219.30,275.52 L219.80,273.54 L220.30,271.54 L220.80,269.54 L221.30,267.53 L221.80,265.52 L222.30,263.52 L222.80,261.52 L223.30,259.53 L223.80,257.56 L224.30,255.61 L224.80,253.67 L225.30,251.77 L225.80,249.89 L226.30,248.05 L226.80,246.25 L227.30,244.49 L227.80,242.77 L228.30,241.11 L228.80,239.50 L229.30,237.94 L229.80,236.45 L230.30,235.02 L230.80,233.66 L231.30,232.37 L231.80,231.16 L232.30,230.02 L232.80,228.97 L233.30,228.00 L233.80,227.11 L234.30,226.32 L234.80,225.61 L235.30,224.99 L235.80,224.47 L236.30,224.04 L236.80,223.71 L237.30,223.48 L237.80,223.34 L238.30,223.30 L238.80,223.36 L239.30,223.52 L239.80,223.77 L240.30,224.12 L240.80,224.57 L241.30,225.11 L241.80,225.74 L242.30,226.47 L242.80,227.28 L243.30,228.19 L243.80,229.17 L244.30,230.25 L244.80,231.40 L245.30,232.62 L245.80,233.93 L246.30,235.30 L246.80,236.74 L247.30,238.25 L247.80,239.81 L248.30,241.44 L248.80,243.11 L249.30,244.84 L249.80,246.61 L250.30,248.42 L250.80,250.27 L251.30,252.15 L251.80,254.06 L252.30,256.00 L252.80,257.95 L253.30,259.93 L253.80,261.92 L254.30,263.92 L254.80,265.92 L255.30,267.93 L255.80,269.94 L256.30,271.94 L256.80,273.94 L257.30,275.92 L257.80,277.89 L258.30,279.84 L258.80,281.77 L259.30,283.68 L259.80,285.57 L260.30,287.43 L260.80,289.26 L261.30,291.05 L261.80,292.82 L262.30,294.55 L262.80,296.24 L263.30,297.90 L263.80,299.51 L264.30,301.09 L264.80,302.62 L265.30,304.12 L265.80,305.57 L266.30,306.98 L266.80,308.34 L267.30,309.66 L267.80,310.94 L268.30,312.17 L268.80,313.36 L269.30,314.51 L269.80,315.61 L270.30,316.67 L270.80,317.69 L271.30,318.67 L271.80,319.60 L272.30,320.50 L272.80,321.36 L273.30,322.17 L273.80,322.95 L274.30,323.70 L274.80,324.41 L275.30,325.08 L275.80,325.72 L276.30,326.33 L276.80,326.90 L277.30,327.45 L277.80,327.96 L278.30,328.45 L278.80,328.91 L279.30,329.34 L279.80,329.75 L280.30,330.14 L280.80,330.50 L281.30,330.84 L281.80,331.16 L282.30,331.45 L282.80,331.73 L283.30,332.00 L283.80,332.24 L284.30,332.47 L284.80,332.68 L285.30,332.88 L285.80,333.06 L286.30,333.23 L286.80,333.39 L287.30,333.54 L287.80,333.68 L288.30,333.81 L288.80,333.92 L289.30,334.03 L289.80,334.13 L290.30,334.22 L290.80,334.31 L291.30,334.39 L291.80,334.46 L292.30,334.53 L292.80,334.59 L293.30,334.64 L293.80,334.70 L294.30,334.74 L294.80,334.79 L295.30,334.82" fill="none" stroke="#25c43a" stroke-width="1.5" stroke-linejoin="round" stroke-linecap="round" />
<path d="M180.30,335.18 L180.80,335.18 L181.30,335.17 L181.80,335.17 L182.30,335.16 L182.80,335.16 L183.30,335.15 L183.80,335.14 L184.30,335.14 L184.80,335.13 L185.30,335.12 L185.80,335.10 L186.30,335.09 L186.80,335.08 L187.30,335.06 L187.80,335.04 L188.30,335.02 L188.80,334.99 L189.30,334.97 L189.80,334.94 L190.30,334.90 L190.80,334.86 L191.30,334.82 L191.80,334.77 L192.30,334.72 L192.80,334.66 L193.30,334.60 L193.80,334.53 L194.30,334.45 L194.80,334.36 L195.30,334.26 L195.80,334.15 L196.30,334.03 L196.80,333.90 L197.30,333.76 L197.80,333.60 L198.30,333.43 L198.80,333.24 L199.30,333.04 L199.80,332.82 L200.30,332.57 L200.80,332.31 L201.30,332.02 L201.80,331.71 L202.30,331.38 L202.80,331.01 L203.30,330.62 L203.80,330.20 L204.30,329.74 L204.80,329.25 L205.30,328.73 L205.80,328.16 L206.30,327.56 L206.80,326.91 L207.30,326.23 L207.80,325.49 L208.30,324.71 L208.80,323.89 L209.30,323.01 L209.80,322.08 L210.30,321.09 L210.80,320.06 L211.30,318.96 L211.80,317.81 L212.30,316.60 L212.80,315.33 L213.30,314.00 L213.80,312.60 L214.30,311.15 L214.80,309.63 L215.30,308.05 L215.80,306.42 L216.30,304.71 L216.80,302.95 L217.30,301.13 L217.80,299.25 L218.30,297.32 L218.80,295.33 L219.30,293.29 L219.80,291.19 L220.30,289.05 L220.80,286.87 L221.30,284.64 L221.80,282.38 L222.30,280.09 L222.80,277.76 L223.30,275.42 L223.80,273.05 L224.30,270.67 L224.80,268.29 L225.30,265.90 L225.80,263.51 L226.30,261.13 L226.80,258.77 L227.30,256.44 L227.80,254.13 L228.30,251.85 L228.80,249.62 L229.30,247.44 L229.80,245.32 L230.30,243.25 L230.80,241.26 L231.30,239.34 L231.80,237.51 L232.30,235.76 L232.80,234.11 L233.30,232.55 L233.80,231.11 L234.30,229.77 L234.80,228.55 L235.30,227.44 L235.80,226.46 L236.30,225.61 L236.80,224.89 L237.30,224.30 L237.80,223.84 L238.30,223.52 L238.80,223.34 L239.30,223.30 L239.80,223.40 L240.30,223.64 L240.80,224.01 L241.30,224.52 L241.80,225.16 L242.30,225.94 L242.80,226.84 L243.30,227.87 L243.80,229.02 L244.30,230.29 L244.80,231.67 L245.30,233.16 L245.80,234.76 L246.30,236.45 L246.80,238.23 L247.30,240.10 L247.80,242.05 L248.30,244.07 L248.80,246.16 L249.30,248.31 L249.80,250.51 L250.30,252.76 L250.80,255.05 L251.30,257.37 L251.80,259.72 L252.30,262.08 L252.80,264.46 L253.30,266.85 L253.80,269.24 L254.30,271.63 L254.80,274.00 L255.30,276.36 L255.80,278.70 L256.30,281.01 L256.80,283.29 L257.30,285.54 L257.80,287.75 L258.30,289.91 L258.80,292.04 L259.30,294.11 L259.80,296.13 L260.30,298.10 L260.80,300.01 L261.30,301.87 L261.80,303.67 L262.30,305.40 L262.80,307.08 L263.30,308.69 L263.80,310.25 L264.30,311.74 L264.80,313.17 L265.30,314.54 L265.80,315.84 L266.30,317.09 L266.80,318.28 L267.30,319.41 L267.80,320.48 L268.30,321.49 L268.80,322.46 L269.30,323.37 L269.80,324.22 L270.30,325.03 L270.80,325.79 L271.30,326.51 L271.80,327.18 L272.30,327.80 L272.80,328.39 L273.30,328.94 L273.80,329.45 L274.30,329.93 L274.80,330.37 L275.30,330.78 L275.80,331.16 L276.30,331.51 L276.80,331.84 L277.30,332.14 L277.80,332.42 L278.30,332.67 L278.80,332.91 L279.30,333.12 L279.80,333.32 L280.30,333.50 L280.80,333.67 L281.30,333.82 L281.80,333.96 L282.30,334.08 L282.80,334.20 L283.30,334.30 L283.80,334.39 L284.30,334.48 L284.80,334.56 L285.30,334.62 L285.80,334.69 L286.30,334.74 L286.80,334.79 L287.30,334.84 L287.80,334.88 L288.30,334.92 L288.80,334.95 L289.30,334.98 L289.80,335.00 L290.30,335.03 L290.80,335.05 L291.30,335.07 L291.80,335.08 L292.30,335.10 L292.80,335.11 L293.30,335.12 L293.80,335.13 L294.30,335.14 L294.80,335.15 L295.30,335.15" fill="none" stroke="#ff6a1c" stroke-width="1.5" stroke-linejoin="round" stroke-linecap="round" />
<line x1="233.60" y1="204.80" x2="246.90" y2="204.80" stroke="#25c43a" stroke-width="1.4"/>
<line x1="233.60" y1="217.40" x2="246.90" y2="217.40" stroke="#ff6a1c" stroke-width="1.4"/>
<text x="250.50" y="207.80" font-size="9.35" fill="#25c43a" stroke="#25c43a" text-anchor="start" >before cycling</text>
<text x="252.40" y="221.00" font-size="9.35" fill="#ff6a1c" stroke="#ff6a1c" text-anchor="start" >after cycling</text>
<text x="324.00" y="198.90" font-size="23.5" fill="#111" stroke="#111" text-anchor="start" >e</text>
<line x1="343.30" y1="204.00" x2="343.30" y2="348.00" stroke="#1a1e24" stroke-width="1.6"/>
<line x1="342.60" y1="347.30" x2="459.90" y2="347.30" stroke="#1a1e24" stroke-width="1.6"/>
<line x1="356.26" y1="347.30" x2="356.26" y2="349.90" stroke="#1a1e24" stroke-width="1.1"/>
<text x="356.26" y="357.80" font-size="9.1" fill="#111" stroke="#111" text-anchor="middle" >1340</text>
<line x1="382.17" y1="347.30" x2="382.17" y2="349.90" stroke="#1a1e24" stroke-width="1.1"/>
<text x="382.17" y="357.80" font-size="9.1" fill="#111" stroke="#111" text-anchor="middle" >1350</text>
<line x1="408.08" y1="347.30" x2="408.08" y2="349.90" stroke="#1a1e24" stroke-width="1.1"/>
<text x="408.08" y="357.80" font-size="9.1" fill="#111" stroke="#111" text-anchor="middle" >1360</text>
<line x1="433.99" y1="347.30" x2="433.99" y2="349.90" stroke="#1a1e24" stroke-width="1.1"/>
<text x="433.99" y="357.80" font-size="9.1" fill="#111" stroke="#111" text-anchor="middle" >1370</text>
<line x1="459.90" y1="347.30" x2="459.90" y2="349.90" stroke="#1a1e24" stroke-width="1.1"/>
<text x="459.90" y="357.80" font-size="9.1" fill="#111" stroke="#111" text-anchor="middle" >1380</text>
<line x1="369.21" y1="347.30" x2="369.21" y2="348.80" stroke="#1a1e24" stroke-width="1.0"/>
<line x1="395.12" y1="347.30" x2="395.12" y2="348.80" stroke="#1a1e24" stroke-width="1.0"/>
<line x1="421.03" y1="347.30" x2="421.03" y2="348.80" stroke="#1a1e24" stroke-width="1.0"/>
<line x1="446.94" y1="347.30" x2="446.94" y2="348.80" stroke="#1a1e24" stroke-width="1.0"/>
<text x="349.30" y="371.2" font-size="12.2" fill="#111" stroke="#111">Raman shift (cm<tspan font-size="7.4" dy="-5.0">-1</tspan><tspan dy="5.0">)</tspan></text>
<text transform="translate(335.80,360.60) rotate(-90)" font-size="12.45" fill="#111" stroke="#111">Normalized intensity (a.u.)</text>
<path d="M344.30,333.49 L344.80,333.47 L345.30,333.45 L345.80,333.44 L346.30,333.42 L346.80,333.39 L347.30,333.37 L347.80,333.34 L348.30,333.31 L348.80,333.27 L349.30,333.23 L349.80,333.19 L350.30,333.14 L350.80,333.09 L351.30,333.03 L351.80,332.97 L352.30,332.90 L352.80,332.82 L353.30,332.74 L353.80,332.64 L354.30,332.54 L354.80,332.43 L355.30,332.31 L355.80,332.17 L356.30,332.03 L356.80,331.87 L357.30,331.70 L357.80,331.51 L358.30,331.31 L358.80,331.09 L359.30,330.86 L359.80,330.60 L360.30,330.32 L360.80,330.03 L361.30,329.71 L361.80,329.36 L362.30,328.99 L362.80,328.59 L363.30,328.17 L363.80,327.71 L364.30,327.23 L364.80,326.71 L365.30,326.15 L365.80,325.56 L366.30,324.94 L366.80,324.27 L367.30,323.57 L367.80,322.82 L368.30,322.03 L368.80,321.19 L369.30,320.31 L369.80,319.38 L370.30,318.41 L370.80,317.38 L371.30,316.30 L371.80,315.18 L372.30,314.00 L372.80,312.76 L373.30,311.47 L373.80,310.13 L374.30,308.74 L374.80,307.29 L375.30,305.78 L375.80,304.22 L376.30,302.61 L376.80,300.94 L377.30,299.23 L377.80,297.46 L378.30,295.64 L378.80,293.77 L379.30,291.85 L379.80,289.89 L380.30,287.89 L380.80,285.85 L381.30,283.77 L381.80,281.65 L382.30,279.51 L382.80,277.33 L383.30,275.14 L383.80,272.92 L384.30,270.69 L384.80,268.44 L385.30,266.19 L385.80,263.93 L386.30,261.68 L386.80,259.44 L387.30,257.21 L387.80,254.99 L388.30,252.80 L388.80,250.64 L389.30,248.51 L389.80,246.43 L390.30,244.38 L390.80,242.39 L391.30,240.46 L391.80,238.58 L392.30,236.78 L392.80,235.05 L393.30,233.39 L393.80,231.82 L394.30,230.33 L394.80,228.93 L395.30,227.64 L395.80,226.44 L396.30,225.34 L396.80,224.35 L397.30,223.47 L397.80,222.71 L398.30,222.06 L398.80,221.53 L399.30,221.11 L399.80,220.82 L400.30,220.65 L400.80,220.60 L401.30,220.67 L401.80,220.87 L402.30,221.19 L402.80,221.62 L403.30,222.18 L403.80,222.85 L404.30,223.64 L404.80,224.54 L405.30,225.55 L405.80,226.67 L406.30,227.89 L406.80,229.21 L407.30,230.62 L407.80,232.12 L408.30,233.71 L408.80,235.39 L409.30,237.13 L409.80,238.95 L410.30,240.84 L410.80,242.79 L411.30,244.79 L411.80,246.84 L412.30,248.94 L412.80,251.07 L413.30,253.24 L413.80,255.43 L414.30,257.65 L414.80,259.89 L415.30,262.13 L415.80,264.39 L416.30,266.64 L416.80,268.89 L417.30,271.13 L417.80,273.36 L418.30,275.58 L418.80,277.77 L419.30,279.94 L419.80,282.08 L420.30,284.19 L420.80,286.26 L421.30,288.29 L421.80,290.29 L422.30,292.24 L422.80,294.14 L423.30,296.00 L423.80,297.81 L424.30,299.57 L424.80,301.28 L425.30,302.94 L425.80,304.54 L426.30,306.09 L426.80,307.58 L427.30,309.02 L427.80,310.41 L428.30,311.74 L428.80,313.01 L429.30,314.24 L429.80,315.41 L430.30,316.52 L430.80,317.59 L431.30,318.61 L431.80,319.57 L432.30,320.49 L432.80,321.36 L433.30,322.19 L433.80,322.97 L434.30,323.71 L434.80,324.41 L435.30,325.07 L435.80,325.69 L436.30,326.27 L436.80,326.81 L437.30,327.33 L437.80,327.81 L438.30,328.26 L438.80,328.68 L439.30,329.07 L439.80,329.43 L440.30,329.77 L440.80,330.09 L441.30,330.38 L441.80,330.65 L442.30,330.91 L442.80,331.14 L443.30,331.35 L443.80,331.55 L444.30,331.74 L444.80,331.90 L445.30,332.06 L445.80,332.20 L446.30,332.33 L446.80,332.45 L447.30,332.56 L447.80,332.66 L448.30,332.75 L448.80,332.84 L449.30,332.91 L449.80,332.98 L450.30,333.04 L450.80,333.10 L451.30,333.15 L451.80,333.20 L452.30,333.24 L452.80,333.28 L453.30,333.31 L453.80,333.34 L454.30,333.37 L454.80,333.40 L455.30,333.42 L455.80,333.44 L456.30,333.46 L456.80,333.47 L457.30,333.49 L457.80,333.50 L458.30,333.51 L458.80,333.52 L459.30,333.53" fill="none" stroke="#25c43a" stroke-width="1.5" stroke-linejoin="round" stroke-linecap="round" />
<path d="M344.30,333.60 L344.80,333.60 L345.30,333.60 L345.80,333.60 L346.30,333.60 L346.80,333.60 L347.30,333.60 L347.80,333.60 L348.30,333.60 L348.80,333.60 L349.30,333.59 L349.80,333.59 L350.30,333.59 L350.80,333.59 L351.30,333.59 L351.80,333.59 L352.30,333.58 L352.80,333.58 L353.30,333.58 L353.80,333.57 L354.30,333.57 L354.80,333.56 L355.30,333.55 L355.80,333.55 L356.30,333.54 L356.80,333.52 L357.30,333.51 L357.80,333.50 L358.30,333.48 L358.80,333.46 L359.30,333.43 L359.80,333.41 L360.30,333.37 L360.80,333.34 L361.30,333.30 L361.80,333.25 L362.30,333.19 L362.80,333.13 L363.30,333.06 L363.80,332.98 L364.30,332.89 L364.80,332.79 L365.30,332.68 L365.80,332.55 L366.30,332.41 L366.80,332.25 L367.30,332.07 L367.80,331.86 L368.30,331.64 L368.80,331.39 L369.30,331.11 L369.80,330.81 L370.30,330.47 L370.80,330.09 L371.30,329.68 L371.80,329.23 L372.30,328.74 L372.80,328.20 L373.30,327.61 L373.80,326.97 L374.30,326.27 L374.80,325.51 L375.30,324.70 L375.80,323.81 L376.30,322.86 L376.80,321.84 L377.30,320.74 L377.80,319.56 L378.30,318.31 L378.80,316.97 L379.30,315.55 L379.80,314.04 L380.30,312.44 L380.80,310.76 L381.30,308.98 L381.80,307.11 L382.30,305.16 L382.80,303.11 L383.30,300.98 L383.80,298.75 L384.30,296.45 L384.80,294.06 L385.30,291.59 L385.80,289.05 L386.30,286.44 L386.80,283.77 L387.30,281.04 L387.80,278.26 L388.30,275.44 L388.80,272.58 L389.30,269.70 L389.80,266.80 L390.30,263.90 L390.80,261.00 L391.30,258.12 L391.80,255.26 L392.30,252.44 L392.80,249.67 L393.30,246.96 L393.80,244.32 L394.30,241.77 L394.80,239.31 L395.30,236.96 L395.80,234.73 L396.30,232.63 L396.80,230.68 L397.30,228.87 L397.80,227.22 L398.30,225.74 L398.80,224.43 L399.30,223.31 L399.80,222.38 L400.30,221.63 L400.80,221.09 L401.30,220.75 L401.80,220.60 L402.30,220.66 L402.80,220.93 L403.30,221.39 L403.80,222.06 L404.30,222.91 L404.80,223.96 L405.30,225.19 L405.80,226.61 L406.30,228.19 L406.80,229.93 L407.30,231.83 L407.80,233.88 L408.30,236.06 L408.80,238.36 L409.30,240.77 L409.80,243.29 L410.30,245.89 L410.80,248.57 L411.30,251.32 L411.80,254.13 L412.30,256.97 L412.80,259.84 L413.30,262.74 L413.80,265.64 L414.30,268.54 L414.80,271.43 L415.30,274.30 L415.80,277.14 L416.30,279.93 L416.80,282.68 L417.30,285.38 L417.80,288.02 L418.30,290.58 L418.80,293.08 L419.30,295.50 L419.80,297.84 L420.30,300.10 L420.80,302.27 L421.30,304.35 L421.80,306.34 L422.30,308.24 L422.80,310.06 L423.30,311.78 L423.80,313.41 L424.30,314.95 L424.80,316.41 L425.30,317.78 L425.80,319.07 L426.30,320.28 L426.80,321.41 L427.30,322.46 L427.80,323.44 L428.30,324.35 L428.80,325.19 L429.30,325.97 L429.80,326.70 L430.30,327.36 L430.80,327.97 L431.30,328.53 L431.80,329.04 L432.30,329.51 L432.80,329.94 L433.30,330.32 L433.80,330.68 L434.30,330.99 L434.80,331.28 L435.30,331.54 L435.80,331.78 L436.30,331.99 L436.80,332.18 L437.30,332.34 L437.80,332.50 L438.30,332.63 L438.80,332.75 L439.30,332.86 L439.80,332.95 L440.30,333.03 L440.80,333.11 L441.30,333.17 L441.80,333.23 L442.30,333.28 L442.80,333.32 L443.30,333.36 L443.80,333.39 L444.30,333.42 L444.80,333.45 L445.30,333.47 L445.80,333.49 L446.30,333.50 L446.80,333.52 L447.30,333.53 L447.80,333.54 L448.30,333.55 L448.80,333.56 L449.30,333.56 L449.80,333.57 L450.30,333.57 L450.80,333.58 L451.30,333.58 L451.80,333.59 L452.30,333.59 L452.80,333.59 L453.30,333.59 L453.80,333.59 L454.30,333.59 L454.80,333.60 L455.30,333.60 L455.80,333.60 L456.30,333.60 L456.80,333.60 L457.30,333.60 L457.80,333.60 L458.30,333.60 L458.80,333.60 L459.30,333.60" fill="none" stroke="#ff6a1c" stroke-width="1.5" stroke-linejoin="round" stroke-linecap="round" />
<line x1="395.90" y1="200.80" x2="409.00" y2="200.80" stroke="#25c43a" stroke-width="1.4"/>
<line x1="395.90" y1="213.90" x2="409.00" y2="213.90" stroke="#ff6a1c" stroke-width="1.4"/>
<text x="412.80" y="203.80" font-size="9.35" fill="#25c43a" stroke="#25c43a" text-anchor="start" >before cycling</text>
<text x="415.00" y="216.90" font-size="9.35" fill="#ff6a1c" stroke="#ff6a1c" text-anchor="start" >after cycling</text>
<text x="488.40" y="199.50" font-size="23.5" fill="#111" stroke="#111" text-anchor="start" >f</text>
<line x1="506.80" y1="203.60" x2="506.80" y2="347.60" stroke="#1a1e24" stroke-width="1.6"/>
<line x1="506.10" y1="346.90" x2="623.70" y2="346.90" stroke="#1a1e24" stroke-width="1.6"/>
<line x1="506.80" y1="346.90" x2="506.80" y2="349.50" stroke="#1a1e24" stroke-width="1.1"/>
<text x="508.60" y="357.80" font-size="9.1" fill="#111" stroke="#111" text-anchor="middle" >1620</text>
<line x1="549.31" y1="346.90" x2="549.31" y2="349.50" stroke="#1a1e24" stroke-width="1.1"/>
<text x="551.11" y="357.80" font-size="9.1" fill="#111" stroke="#111" text-anchor="middle" >1640</text>
<line x1="591.82" y1="346.90" x2="591.82" y2="349.50" stroke="#1a1e24" stroke-width="1.1"/>
<text x="593.62" y="357.80" font-size="9.1" fill="#111" stroke="#111" text-anchor="middle" >1660</text>
<line x1="528.05" y1="346.90" x2="528.05" y2="348.40" stroke="#1a1e24" stroke-width="1.0"/>
<line x1="570.56" y1="346.90" x2="570.56" y2="348.40" stroke="#1a1e24" stroke-width="1.0"/>
<line x1="613.07" y1="346.90" x2="613.07" y2="348.40" stroke="#1a1e24" stroke-width="1.0"/>
<text x="512.80" y="371.2" font-size="12.2" fill="#111" stroke="#111">Raman shift (cm<tspan font-size="7.4" dy="-5.0">-1</tspan><tspan dy="5.0">)</tspan></text>
<text transform="translate(497.20,360.80) rotate(-90)" font-size="12.45" fill="#111" stroke="#111">Normalized intensity (a.u.)</text>
<path d="M507.80,333.21 L508.30,333.19 L508.80,333.18 L509.30,333.16 L509.80,333.14 L510.30,333.12 L510.80,333.10 L511.30,333.07 L511.80,333.04 L512.30,333.01 L512.80,332.97 L513.30,332.93 L513.80,332.89 L514.30,332.83 L514.80,332.78 L515.30,332.71 L515.80,332.64 L516.30,332.56 L516.80,332.48 L517.30,332.38 L517.80,332.27 L518.30,332.16 L518.80,332.03 L519.30,331.89 L519.80,331.74 L520.30,331.57 L520.80,331.38 L521.30,331.18 L521.80,330.96 L522.30,330.72 L522.80,330.46 L523.30,330.18 L523.80,329.87 L524.30,329.53 L524.80,329.17 L525.30,328.79 L525.80,328.37 L526.30,327.91 L526.80,327.43 L527.30,326.91 L527.80,326.35 L528.30,325.75 L528.80,325.10 L529.30,324.42 L529.80,323.69 L530.30,322.91 L530.80,322.09 L531.30,321.21 L531.80,320.28 L532.30,319.30 L532.80,318.26 L533.30,317.17 L533.80,316.01 L534.30,314.80 L534.80,313.53 L535.30,312.19 L535.80,310.79 L536.30,309.33 L536.80,307.81 L537.30,306.22 L537.80,304.58 L538.30,302.86 L538.80,301.09 L539.30,299.25 L539.80,297.36 L540.30,295.40 L540.80,293.39 L541.30,291.33 L541.80,289.21 L542.30,287.04 L542.80,284.83 L543.30,282.57 L543.80,280.28 L544.30,277.95 L544.80,275.58 L545.30,273.20 L545.80,270.79 L546.30,268.36 L546.80,265.93 L547.30,263.49 L547.80,261.05 L548.30,258.61 L548.80,256.20 L549.30,253.80 L549.80,251.43 L550.30,249.09 L550.80,246.79 L551.30,244.55 L551.80,242.35 L552.30,240.22 L552.80,238.15 L553.30,236.16 L553.80,234.25 L554.30,232.43 L554.80,230.70 L555.30,229.07 L555.80,227.55 L556.30,226.14 L556.80,224.84 L557.30,223.67 L557.80,222.61 L558.30,221.69 L558.80,220.90 L559.30,220.24 L559.80,219.72 L560.30,219.34 L560.80,219.10 L561.30,219.00 L561.80,219.05 L562.30,219.23 L562.80,219.55 L563.30,220.02 L563.80,220.62 L564.30,221.36 L564.80,222.23 L565.30,223.23 L565.80,224.36 L566.30,225.61 L566.80,226.97 L567.30,228.45 L567.80,230.04 L568.30,231.73 L568.80,233.51 L569.30,235.39 L569.80,237.35 L570.30,239.38 L570.80,241.49 L571.30,243.66 L571.80,245.89 L572.30,248.17 L572.80,250.49 L573.30,252.85 L573.80,255.23 L574.30,257.64 L574.80,260.07 L575.30,262.51 L575.80,264.95 L576.30,267.39 L576.80,269.82 L577.30,272.23 L577.80,274.63 L578.30,277.00 L578.80,279.35 L579.30,281.66 L579.80,283.93 L580.30,286.16 L580.80,288.35 L581.30,290.49 L581.80,292.57 L582.30,294.61 L582.80,296.58 L583.30,298.50 L583.80,300.36 L584.30,302.16 L584.80,303.90 L585.30,305.57 L585.80,307.18 L586.30,308.73 L586.80,310.22 L587.30,311.64 L587.80,313.00 L588.30,314.30 L588.80,315.54 L589.30,316.71 L589.80,317.83 L590.30,318.89 L590.80,319.90 L591.30,320.85 L591.80,321.74 L592.30,322.59 L592.80,323.39 L593.30,324.13 L593.80,324.84 L594.30,325.49 L594.80,326.11 L595.30,326.69 L595.80,327.22 L596.30,327.72 L596.80,328.19 L597.30,328.62 L597.80,329.02 L598.30,329.39 L598.80,329.74 L599.30,330.06 L599.80,330.35 L600.30,330.62 L600.80,330.87 L601.30,331.09 L601.80,331.30 L602.30,331.49 L602.80,331.67 L603.30,331.83 L603.80,331.98 L604.30,332.11 L604.80,332.23 L605.30,332.34 L605.80,332.44 L606.30,332.53 L606.80,332.61 L607.30,332.68 L607.80,332.75 L608.30,332.81 L608.80,332.86 L609.30,332.91 L609.80,332.96 L610.30,333.00 L610.80,333.03 L611.30,333.06 L611.80,333.09 L612.30,333.11 L612.80,333.14 L613.30,333.16 L613.80,333.17 L614.30,333.19 L614.80,333.20 L615.30,333.22 L615.80,333.23 L616.30,333.24 L616.80,333.24 L617.30,333.25 L617.80,333.26 L618.30,333.26 L618.80,333.27 L619.30,333.27 L619.80,333.28 L620.30,333.28 L620.80,333.28 L621.30,333.28 L621.80,333.29 L622.30,333.29 L622.80,333.29" fill="none" stroke="#25c43a" stroke-width="1.5" stroke-linejoin="round" stroke-linecap="round" />
<path d="M507.80,333.27 L508.30,333.27 L508.80,333.27 L509.30,333.26 L509.80,333.25 L510.30,333.25 L510.80,333.24 L511.30,333.23 L511.80,333.22 L512.30,333.21 L512.80,333.19 L513.30,333.18 L513.80,333.16 L514.30,333.14 L514.80,333.11 L515.30,333.09 L515.80,333.06 L516.30,333.02 L516.80,332.99 L517.30,332.94 L517.80,332.90 L518.30,332.84 L518.80,332.78 L519.30,332.72 L519.80,332.64 L520.30,332.56 L520.80,332.47 L521.30,332.37 L521.80,332.26 L522.30,332.13 L522.80,331.99 L523.30,331.84 L523.80,331.68 L524.30,331.49 L524.80,331.29 L525.30,331.07 L525.80,330.82 L526.30,330.56 L526.80,330.27 L527.30,329.95 L527.80,329.61 L528.30,329.24 L528.80,328.83 L529.30,328.40 L529.80,327.92 L530.30,327.41 L530.80,326.86 L531.30,326.27 L531.80,325.63 L532.30,324.95 L532.80,324.22 L533.30,323.43 L533.80,322.60 L534.30,321.71 L534.80,320.76 L535.30,319.76 L535.80,318.69 L536.30,317.57 L536.80,316.38 L537.30,315.12 L537.80,313.80 L538.30,312.41 L538.80,310.95 L539.30,309.42 L539.80,307.82 L540.30,306.16 L540.80,304.42 L541.30,302.62 L541.80,300.74 L542.30,298.80 L542.80,296.80 L543.30,294.73 L543.80,292.60 L544.30,290.41 L544.80,288.16 L545.30,285.86 L545.80,283.52 L546.30,281.12 L546.80,278.69 L547.30,276.23 L547.80,273.73 L548.30,271.21 L548.80,268.67 L549.30,266.12 L549.80,263.57 L550.30,261.02 L550.80,258.48 L551.30,255.95 L551.80,253.45 L552.30,250.98 L552.80,248.55 L553.30,246.17 L553.80,243.85 L554.30,241.58 L554.80,239.40 L555.30,237.29 L555.80,235.26 L556.30,233.33 L556.80,231.51 L557.30,229.79 L557.80,228.19 L558.30,226.71 L558.80,225.35 L559.30,224.13 L559.80,223.05 L560.30,222.11 L560.80,221.31 L561.30,220.66 L561.80,220.17 L562.30,219.83 L562.80,219.64 L563.30,219.61 L563.80,219.73 L564.30,220.01 L564.80,220.45 L565.30,221.03 L565.80,221.77 L566.30,222.65 L566.80,223.68 L567.30,224.85 L567.80,226.15 L568.30,227.58 L568.80,229.13 L569.30,230.81 L569.80,232.59 L570.30,234.48 L570.80,236.47 L571.30,238.54 L571.80,240.70 L572.30,242.93 L572.80,245.23 L573.30,247.59 L573.80,250.00 L574.30,252.46 L574.80,254.95 L575.30,257.46 L575.80,260.00 L576.30,262.55 L576.80,265.10 L577.30,267.66 L577.80,270.20 L578.30,272.73 L578.80,275.23 L579.30,277.71 L579.80,280.16 L580.30,282.56 L580.80,284.93 L581.30,287.25 L581.80,289.51 L582.30,291.73 L582.80,293.88 L583.30,295.98 L583.80,298.01 L584.30,299.97 L584.80,301.87 L585.30,303.71 L585.80,305.47 L586.30,307.17 L586.80,308.79 L587.30,310.35 L587.80,311.83 L588.30,313.25 L588.80,314.60 L589.30,315.88 L589.80,317.10 L590.30,318.25 L590.80,319.34 L591.30,320.37 L591.80,321.34 L592.30,322.25 L592.80,323.11 L593.30,323.91 L593.80,324.66 L594.30,325.36 L594.80,326.02 L595.30,326.63 L595.80,327.20 L596.30,327.72 L596.80,328.21 L597.30,328.66 L597.80,329.08 L598.30,329.47 L598.80,329.82 L599.30,330.15 L599.80,330.45 L600.30,330.72 L600.80,330.97 L601.30,331.20 L601.80,331.41 L602.30,331.60 L602.80,331.78 L603.30,331.94 L603.80,332.08 L604.30,332.21 L604.80,332.33 L605.30,332.43 L605.80,332.53 L606.30,332.61 L606.80,332.69 L607.30,332.76 L607.80,332.82 L608.30,332.88 L608.80,332.93 L609.30,332.97 L609.80,333.01 L610.30,333.04 L610.80,333.08 L611.30,333.10 L611.80,333.13 L612.30,333.15 L612.80,333.17 L613.30,333.19 L613.80,333.20 L614.30,333.21 L614.80,333.22 L615.30,333.23 L615.80,333.24 L616.30,333.25 L616.80,333.26 L617.30,333.26 L617.80,333.27 L618.30,333.27 L618.80,333.28 L619.30,333.28 L619.80,333.28 L620.30,333.29 L620.80,333.29 L621.30,333.29 L621.80,333.29 L622.30,333.29 L622.80,333.29" fill="none" stroke="#ff6a1c" stroke-width="1.5" stroke-linejoin="round" stroke-linecap="round" />
<line x1="558.30" y1="200.50" x2="572.10" y2="200.50" stroke="#25c43a" stroke-width="1.4"/>
<line x1="558.30" y1="213.20" x2="572.10" y2="213.20" stroke="#ff6a1c" stroke-width="1.4"/>
<text x="575.60" y="202.90" font-size="9.35" fill="#25c43a" stroke="#25c43a" text-anchor="start" >before cycling</text>
<text x="577.40" y="216.20" font-size="9.35" fill="#ff6a1c" stroke="#ff6a1c" text-anchor="start" >after cycling</text>
</svg></body></html>
